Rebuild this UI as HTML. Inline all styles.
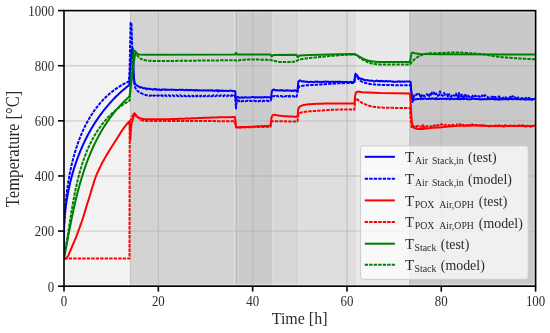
<!DOCTYPE html>
<html><head><meta charset="utf-8"><title>Temperature vs Time</title>
<style>html,body{margin:0;padding:0;background:#fff;}body{width:550px;height:333px;overflow:hidden;}svg{display:block;}</style>
</head><body>
<svg width="550" height="333" viewBox="0 0 550 333">
<defs><clipPath id="ax"><rect x="64.00" y="10.60" width="471.60" height="275.60"/></clipPath></defs>
<rect width="550" height="333" fill="#ffffff"/>
<rect x="64.00" y="10.60" width="65.90" height="275.60" fill="#f2f2f2"/>
<rect x="129.90" y="10.60" width="106.00" height="275.60" fill="#d3d3d3"/>
<rect x="235.90" y="10.60" width="35.40" height="275.60" fill="#cbcbcb"/>
<rect x="271.30" y="10.60" width="25.90" height="275.60" fill="#d7d7d7"/>
<rect x="297.20" y="10.60" width="58.20" height="275.60" fill="#dedede"/>
<rect x="355.40" y="10.60" width="53.80" height="275.60" fill="#e8e8e8"/>
<rect x="409.20" y="10.60" width="126.40" height="275.60" fill="#c9c9c9"/>
<rect x="127.80" y="10.60" width="1.40" height="275.60" fill="#ffffff" fill-opacity="0.25"/>
<rect x="233.70" y="10.60" width="1.60" height="275.60" fill="#ffffff" fill-opacity="0.22"/>
<rect x="237.10" y="10.60" width="1.10" height="275.60" fill="#ffffff" fill-opacity="0.12"/>
<rect x="272.10" y="10.60" width="1.30" height="275.60" fill="#ffffff" fill-opacity="0.18"/>
<rect x="298.10" y="10.60" width="1.30" height="275.60" fill="#ffffff" fill-opacity="0.18"/>
<rect x="356.70" y="10.60" width="1.20" height="275.60" fill="#ffffff" fill-opacity="0.2"/>
<rect x="407.70" y="10.60" width="1.10" height="275.60" fill="#ffffff" fill-opacity="0.3"/>
<line x1="130.30" y1="10.6" x2="130.30" y2="286.2" stroke="#000" stroke-opacity="0.07" stroke-width="1.2"/>
<line x1="236.20" y1="10.6" x2="236.20" y2="286.2" stroke="#000" stroke-opacity="0.11" stroke-width="1.2"/>
<line x1="271.45" y1="10.6" x2="271.45" y2="286.2" stroke="#000" stroke-opacity="0.09" stroke-width="1.2"/>
<line x1="297.35" y1="10.6" x2="297.35" y2="286.2" stroke="#000" stroke-opacity="0.07" stroke-width="1.2"/>
<line x1="355.60" y1="10.6" x2="355.60" y2="286.2" stroke="#000" stroke-opacity="0.06" stroke-width="1.2"/>
<line x1="409.70" y1="10.6" x2="409.70" y2="286.2" stroke="#000" stroke-opacity="0.08" stroke-width="1.2"/>
<rect x="65.00" y="12.00" width="469.60" height="1.2" fill="#fff" fill-opacity="0.3"/>
<rect x="65.00" y="283.90" width="469.60" height="1.2" fill="#fff" fill-opacity="0.3"/>
<rect x="65.00" y="12.00" width="1.2" height="271.90" fill="#fff" fill-opacity="0.3"/>
<rect x="533.30" y="12.00" width="1.2" height="271.90" fill="#fff" fill-opacity="0.3"/>
<line x1="64.00" y1="10.6" x2="64.00" y2="286.2" stroke="#b0b0b0" stroke-opacity="0.5" stroke-width="1.4"/>
<line x1="158.32" y1="10.6" x2="158.32" y2="286.2" stroke="#b0b0b0" stroke-opacity="0.5" stroke-width="1.4"/>
<line x1="252.64" y1="10.6" x2="252.64" y2="286.2" stroke="#b0b0b0" stroke-opacity="0.5" stroke-width="1.4"/>
<line x1="346.96" y1="10.6" x2="346.96" y2="286.2" stroke="#b0b0b0" stroke-opacity="0.5" stroke-width="1.4"/>
<line x1="441.28" y1="10.6" x2="441.28" y2="286.2" stroke="#b0b0b0" stroke-opacity="0.5" stroke-width="1.4"/>
<line x1="535.60" y1="10.6" x2="535.60" y2="286.2" stroke="#b0b0b0" stroke-opacity="0.5" stroke-width="1.4"/>
<line x1="64.0" y1="286.20" x2="535.6" y2="286.20" stroke="#b0b0b0" stroke-opacity="0.5" stroke-width="1.4"/>
<line x1="64.0" y1="231.08" x2="535.6" y2="231.08" stroke="#b0b0b0" stroke-opacity="0.5" stroke-width="1.4"/>
<line x1="64.0" y1="175.96" x2="535.6" y2="175.96" stroke="#b0b0b0" stroke-opacity="0.5" stroke-width="1.4"/>
<line x1="64.0" y1="120.84" x2="535.6" y2="120.84" stroke="#b0b0b0" stroke-opacity="0.5" stroke-width="1.4"/>
<line x1="64.0" y1="65.72" x2="535.6" y2="65.72" stroke="#b0b0b0" stroke-opacity="0.5" stroke-width="1.4"/>
<line x1="64.0" y1="10.60" x2="535.6" y2="10.60" stroke="#b0b0b0" stroke-opacity="0.5" stroke-width="1.4"/>
<g clip-path="url(#ax)" fill="none" stroke-width="2.00" stroke-linejoin="round">
<path d="M64.09,252.78 L64.06,252.13 L64.03,251.48 L64.00,250.83 L63.97,250.18 L63.94,249.53 L63.91,248.88 L63.89,248.23 L63.87,247.58 L63.85,246.93 L63.83,246.27 L63.81,245.62 L63.79,244.97 L63.78,244.31 L63.77,243.66 L63.76,243.00 L63.75,242.35 L63.74,241.69 L63.73,241.04 L63.73,240.38 L63.73,239.72 L63.72,239.06 L63.73,238.41 L63.73,237.75 L63.73,237.09 L63.74,236.43 L63.75,235.77 L63.76,235.11 L63.77,234.45 L63.78,233.79 L63.79,233.13 L63.81,232.47 L63.83,231.81 L63.85,231.15 L63.87,230.49 L63.89,229.83 L63.92,229.16 L63.94,228.50 L63.97,227.84 L64.00,227.18 L64.03,226.52 L64.07,225.85 L64.10,225.19 L64.14,224.53 L64.18,223.86 L64.22,223.20 L64.26,222.54 L64.31,221.87 L64.35,221.21 L64.40,220.54 L64.45,219.88 L64.50,219.22 L64.55,218.55 L64.61,217.89 L64.67,217.22 L64.72,216.56 L64.78,215.90 L64.85,215.23 L64.91,214.57 L64.98,213.90 L65.04,213.24 L65.11,212.57 L65.18,211.91 L65.26,211.25 L65.33,210.58 L65.41,209.92 L65.49,209.25 L65.57,208.59 L65.65,207.93 L65.73,207.26 L65.82,206.60 L65.90,205.93 L65.99,205.27 L66.08,204.61 L66.18,203.95 L66.27,203.28 L66.37,202.62 L66.47,201.96 L66.57,201.30 L66.67,200.63 L66.77,199.97 L66.88,199.31 L66.99,198.65 L67.10,197.99 L67.21,197.33 L67.32,196.67 L67.44,196.00 L67.55,195.34 L67.67,194.69 L67.79,194.03 L67.92,193.37 L68.04,192.71 L68.17,192.05 L68.30,191.39 L68.43,190.73 L68.56,190.08 L68.69,189.42 L68.83,188.76 L68.97,188.11 L69.11,187.45 L69.25,186.79 L69.39,186.14 L69.54,185.48 L69.68,184.83 L69.83,184.18 L69.98,183.52 L70.14,182.87 L70.29,182.22 L70.45,181.57 L70.61,180.92 L70.77,180.26 L70.93,179.61 L71.10,178.96 L71.27,178.32 L71.43,177.67 L71.60,177.02 L71.78,176.37 L71.95,175.72 L72.13,175.08 L72.31,174.43 L72.49,173.79 L72.67,173.14 L72.85,172.50 L73.04,171.86 L73.23,171.21 L73.42,170.57 L73.61,169.93 L73.81,169.29 L74.00,168.65 L74.20,168.01 L74.40,167.37 L74.60,166.74 L74.81,166.10 L75.02,165.46 L75.22,164.83 L75.43,164.19 L75.65,163.56 L75.86,162.93 L76.08,162.29 L76.30,161.66 L76.52,161.03 L76.74,160.40 L76.96,159.77 L77.19,159.14 L77.42,158.52 L77.65,157.89 L77.88,157.26 L78.12,156.64 L78.35,156.02 L78.59,155.39 L78.83,154.77 L79.08,154.15 L79.32,153.53 L79.57,152.91 L79.82,152.29 L80.07,151.68 L80.32,151.06 L80.58,150.44 L80.83,149.83 L81.09,149.22 L81.36,148.60 L81.62,147.99 L81.89,147.38 L82.15,146.77 L82.42,146.17 L82.69,145.56 L82.97,144.95 L83.25,144.35 L83.52,143.74 L83.80,143.14 L84.09,142.54 L84.37,141.94 L84.66,141.34 L84.95,140.74 L85.24,140.14 L85.53,139.55 L85.83,138.95 L86.12,138.36 L86.42,137.77 L86.72,137.18 L87.03,136.59 L87.33,136.00 L87.64,135.41 L87.95,134.83 L88.26,134.24 L88.58,133.66 L88.90,133.07 L89.21,132.49 L89.53,131.91 L89.86,131.34 L90.18,130.76 L90.51,130.18 L90.84,129.61 L91.17,129.03 L91.51,128.46 L91.84,127.89 L92.18,127.32 L92.52,126.76 L92.86,126.19 L93.21,125.62 L93.55,125.06 L93.90,124.50 L94.26,123.94 L94.61,123.38 L94.96,122.82 L95.32,122.27 L95.68,121.71 L96.05,121.16 L96.41,120.61 L96.78,120.06 L97.15,119.51 L97.52,118.96 L97.89,118.41 L98.27,117.87 L98.64,117.33 L99.02,116.79 L99.41,116.25 L99.79,115.71 L100.18,115.17 L100.57,114.64 L100.96,114.10 L101.35,113.57 L101.75,113.04 L102.15,112.52 L102.55,111.99 L102.95,111.46 L103.35,110.94 L103.76,110.42 L104.17,109.90 L104.58,109.38 L105.00,108.87 L105.41,108.35 L105.83,107.84 L106.25,107.33 L106.68,106.82 L107.10,106.31 L107.53,105.80 L107.96,105.30 L108.39,104.80 L108.83,104.30 L109.26,103.80 L109.70,103.30 L110.14,102.81 L110.59,102.31 L111.03,101.82 L111.48,101.33 L111.93,100.85 L112.39,100.36 L112.84,99.88 L113.30,99.39 L113.76,98.91 L114.22,98.44 L114.69,97.96 L115.15,97.49 L115.62,97.01 L116.09,96.54 L116.57,96.07 L117.05,95.61 L117.52,95.14 L118.00,94.68 L118.49,94.22 L118.97,93.76 L119.46,93.31 L119.95,92.85 L120.45,92.40 L120.94,91.95 L121.44,91.50 L121.94,91.06 L122.44,90.61 L122.95,90.17 L123.45,89.73 L123.96,89.29 L124.48,88.86 L124.99,88.43 L125.51,88.00 L126.03,87.57 L126.55,87.14 L127.07,86.72 L127.60,86.29 L128.13,85.87 L128.66,85.46 L129.19,85.04 L129.90,75.00 L130.80,60.00 L131.80,50.00 L132.60,49.00 L133.20,58.00 L133.70,72.00 L134.20,80.50 L134.20,80.50 L134.46,81.40 L134.72,82.26 L134.98,83.02 L135.24,83.65 L135.50,84.10 L135.75,84.41 L136.00,84.68 L136.25,84.91 L136.50,85.12 L136.75,85.30 L137.00,85.47 L137.25,85.63 L137.50,85.80 L137.75,85.97 L138.00,86.13 L138.25,86.29 L138.50,86.44 L138.75,86.59 L139.00,86.73 L139.25,86.86 L139.50,86.98 L139.75,87.10 L140.00,87.20 L140.00,87.43 L140.25,87.36 L140.50,87.29 L140.76,87.22 L141.01,87.21 L141.26,87.21 L141.51,87.22 L141.76,87.35 L142.01,87.57 L142.27,87.78 L142.52,87.94 L142.77,88.06 L143.02,88.17 L143.27,88.24 L143.53,88.22 L143.78,88.20 L144.03,88.18 L144.28,88.20 L144.53,88.23 L144.79,88.25 L145.04,88.21 L145.29,88.16 L145.54,88.11 L145.79,88.40 L146.04,88.78 L146.30,89.17 L146.55,89.25 L146.80,89.13 L147.07,88.99 L147.33,88.86 L147.60,88.74 L147.87,88.61 L148.13,88.59 L148.40,88.68 L148.67,88.77 L148.93,88.88 L149.20,89.01 L149.47,89.13 L149.73,89.12 L150.00,88.99 L150.25,88.87 L150.50,88.86 L150.75,89.02 L151.00,89.19 L151.25,89.31 L151.50,89.27 L151.75,89.23 L152.00,89.19 L152.25,89.35 L152.50,89.51 L152.75,89.67 L153.00,89.69 L153.25,89.68 L153.50,89.67 L153.75,89.48 L154.00,89.17 L154.25,88.86 L154.50,88.77 L154.75,89.02 L155.00,89.27 L155.25,89.44 L155.50,89.30 L155.75,89.17 L156.00,89.03 L156.25,89.28 L156.50,89.52 L156.75,89.77 L157.00,89.76 L157.25,89.68 L157.50,89.61 L157.75,89.60 L158.00,89.64 L158.25,89.68 L158.50,89.65 L158.75,89.52 L159.00,89.38 L159.25,89.32 L159.50,89.58 L159.75,89.84 L160.00,90.10 L160.25,90.12 L160.50,90.14 L160.75,90.17 L161.00,89.96 L161.25,89.70 L161.50,89.43 L161.75,89.40 L162.00,89.53 L162.25,89.67 L162.50,89.71 L162.75,89.62 L163.00,89.54 L163.25,89.48 L163.50,89.54 L163.75,89.61 L164.00,89.67 L164.25,89.57 L164.50,89.46 L164.75,89.36 L165.00,89.56 L165.25,89.85 L165.50,90.13 L165.75,90.09 L166.00,89.85 L166.25,89.61 L166.50,89.49 L166.75,89.55 L167.00,89.62 L167.25,89.69 L167.50,89.76 L167.75,89.84 L168.00,89.91 L168.25,89.82 L168.50,89.72 L168.75,89.63 L169.00,89.64 L169.25,89.68 L169.50,89.72 L169.75,89.73 L170.00,89.70 L170.25,89.68 L170.50,89.68 L170.75,89.73 L171.00,89.77 L171.25,89.79 L171.50,89.70 L171.75,89.61 L172.00,89.53 L172.25,89.60 L172.50,89.67 L172.75,89.73 L173.00,89.77 L173.25,89.79 L173.50,89.82 L173.75,89.83 L174.00,89.82 L174.25,89.81 L174.50,89.82 L174.75,89.86 L175.00,89.90 L175.25,89.93 L175.50,89.90 L175.75,89.88 L176.00,89.85 L176.25,89.95 L176.50,90.04 L176.75,90.14 L177.00,90.09 L177.25,90.00 L177.50,89.91 L177.75,89.88 L178.00,89.90 L178.25,89.92 L178.50,89.92 L178.75,89.88 L179.00,89.84 L179.25,89.81 L179.50,89.82 L179.75,89.84 L180.00,89.86 L180.25,89.80 L180.50,89.74 L180.75,89.68 L181.00,89.79 L181.25,89.95 L181.50,90.12 L181.75,90.10 L182.00,89.95 L182.25,89.81 L182.50,89.75 L182.75,89.78 L183.00,89.82 L183.25,89.88 L183.50,89.98 L183.75,90.08 L184.00,90.18 L184.25,90.19 L184.50,90.20 L184.75,90.21 L185.00,90.16 L185.25,90.09 L185.50,90.03 L185.75,89.92 L186.00,89.78 L186.25,89.64 L186.50,89.65 L186.75,89.87 L187.00,90.09 L187.25,90.26 L187.50,90.25 L187.75,90.24 L188.00,90.23 L188.25,90.09 L188.50,89.95 L188.75,89.81 L189.00,89.94 L189.25,90.13 L189.50,90.33 L189.75,90.33 L190.00,90.21 L190.25,90.09 L190.50,90.00 L190.75,89.97 L191.00,89.94 L191.25,89.93 L191.50,90.05 L191.75,90.16 L192.00,90.27 L192.25,90.25 L192.50,90.23 L192.75,90.21 L193.00,90.24 L193.25,90.28 L193.50,90.32 L193.75,90.24 L194.00,90.09 L194.25,89.93 L194.50,89.96 L194.75,90.27 L195.00,90.57 L195.25,90.77 L195.50,90.57 L195.75,90.36 L196.00,90.16 L196.25,90.08 L196.50,90.00 L196.75,89.93 L197.00,90.06 L197.25,90.26 L197.50,90.45 L197.75,90.48 L198.00,90.40 L198.25,90.32 L198.50,90.30 L198.75,90.36 L199.00,90.43 L199.25,90.47 L199.50,90.42 L199.75,90.36 L200.00,90.31 L200.25,90.34 L200.50,90.37 L200.75,90.40 L201.00,90.43 L201.25,90.46 L201.50,90.49 L201.75,90.46 L202.00,90.37 L202.25,90.29 L202.50,90.29 L202.75,90.42 L203.00,90.55 L203.25,90.64 L203.50,90.54 L203.75,90.45 L204.00,90.35 L204.25,90.32 L204.50,90.29 L204.75,90.26 L205.00,90.32 L205.25,90.41 L205.50,90.50 L205.75,90.56 L206.01,90.59 L206.26,90.63 L206.51,90.63 L206.76,90.57 L207.01,90.52 L207.26,90.46 L207.51,90.41 L207.76,90.36 L208.02,90.32 L208.27,90.46 L208.52,90.59 L208.77,90.73 L209.02,90.56 L209.27,90.36 L209.52,90.15 L209.77,90.14 L210.03,90.21 L210.28,90.28 L210.53,90.36 L210.78,90.46 L211.03,90.56 L211.28,90.58 L211.53,90.47 L211.78,90.35 L212.04,90.26 L212.29,90.39 L212.54,90.52 L212.79,90.64 L213.04,90.65 L213.29,90.64 L213.54,90.64 L213.79,90.71 L214.05,90.80 L214.30,90.88 L214.55,90.83 L214.80,90.67 L215.05,90.52 L215.30,90.44 L215.55,90.47 L215.80,90.50 L216.06,90.54 L216.31,90.63 L216.56,90.72 L216.81,90.79 L217.06,90.55 L217.31,90.31 L217.56,90.07 L217.81,90.46 L218.07,90.95 L218.32,91.44 L218.57,91.38 L218.82,91.05 L219.07,90.72 L219.32,90.56 L219.57,90.56 L219.82,90.56 L220.08,90.60 L220.33,90.75 L220.58,90.89 L220.83,91.01 L221.08,90.93 L221.33,90.86 L221.58,90.78 L221.83,90.64 L222.09,90.49 L222.34,90.34 L222.59,90.47 L222.84,90.68 L223.09,90.90 L223.34,91.01 L223.59,91.03 L223.84,91.05 L224.10,91.03 L224.35,90.92 L224.60,90.81 L224.85,90.72 L225.10,90.74 L225.35,90.76 L225.60,90.78 L225.85,90.85 L226.11,90.92 L226.36,90.99 L226.61,90.91 L226.86,90.79 L227.11,90.67 L227.36,90.71 L227.61,90.83 L227.86,90.95 L228.12,91.01 L228.37,90.99 L228.62,90.98 L228.87,90.94 L229.12,90.87 L229.37,90.80 L229.62,90.73 L229.87,90.67 L230.13,90.61 L230.38,90.55 L230.63,90.64 L230.88,90.75 L231.13,90.85 L231.38,90.84 L231.63,90.79 L231.88,90.74 L232.14,90.80 L232.39,90.97 L232.64,91.14 L232.89,91.22 L233.14,91.15 L233.39,91.08 L233.64,91.03 L233.89,91.09 L234.15,91.15 L234.40,91.21 L234.65,91.16 L234.90,91.11 L235.30,91.53 L235.90,100.07 L236.50,97.43 L237.47,97.03 L238.43,97.27 L239.40,97.67 L240.21,97.77 L241.03,97.56 L241.84,97.42 L242.65,97.36 L243.46,97.80 L244.28,97.58 L245.09,97.28 L245.90,97.27 L246.72,97.37 L247.53,97.66 L248.34,97.43 L249.15,97.40 L249.97,97.48 L250.78,97.37 L251.59,97.13 L252.41,97.01 L253.22,96.93 L254.03,97.20 L254.84,97.75 L255.66,97.34 L256.47,97.17 L257.28,97.43 L258.09,97.21 L258.91,97.27 L259.72,97.16 L260.53,97.46 L261.35,97.32 L262.16,97.30 L262.97,97.47 L263.78,97.29 L264.60,96.92 L265.41,97.09 L266.22,97.45 L267.04,97.34 L267.85,97.36 L268.66,97.07 L269.47,97.29 L270.29,97.48 L271.10,97.33 L271.80,91.90 L272.60,89.99 L273.40,89.70 L274.21,89.56 L275.01,90.14 L275.81,90.10 L276.62,90.29 L277.42,90.28 L278.22,90.53 L279.03,90.56 L279.83,90.21 L280.63,90.29 L281.44,90.55 L282.24,90.11 L283.04,90.62 L283.85,90.75 L284.65,90.72 L285.45,90.47 L286.25,90.56 L287.06,90.30 L287.86,90.53 L288.66,90.48 L289.47,90.64 L290.27,90.57 L291.07,90.76 L291.88,91.04 L292.68,90.52 L293.48,90.99 L294.29,90.42 L295.09,90.29 L295.89,90.82 L296.70,90.96 L297.50,91.11 L298.30,81.61 L299.90,80.33 L300.80,81.10 L301.70,81.19 L302.50,81.42 L303.30,81.19 L304.10,81.50 L304.90,81.60 L305.70,81.94 L306.51,81.53 L307.32,81.63 L308.13,82.03 L308.95,82.24 L309.76,81.92 L310.57,81.87 L311.38,81.82 L312.19,82.09 L313.00,82.07 L313.82,82.21 L314.63,81.83 L315.44,81.61 L316.25,81.65 L317.06,81.55 L317.88,81.74 L318.69,82.16 L319.50,81.87 L320.31,81.84 L321.12,82.19 L321.93,81.79 L322.75,81.76 L323.56,81.92 L324.37,81.77 L325.18,81.51 L325.99,81.61 L326.80,81.93 L327.62,81.55 L328.43,81.64 L329.24,82.06 L330.05,81.90 L330.86,81.87 L331.67,81.87 L332.49,81.74 L333.30,81.76 L334.11,82.12 L334.92,81.79 L335.73,81.83 L336.54,81.98 L337.35,81.81 L338.17,81.79 L338.98,81.62 L339.79,81.66 L340.60,81.89 L341.41,82.02 L342.22,81.77 L343.04,82.58 L343.85,81.99 L344.66,81.96 L345.47,81.91 L346.28,81.86 L347.09,82.27 L347.91,81.90 L348.72,82.30 L349.53,82.30 L350.34,81.74 L351.15,82.24 L351.96,81.83 L352.78,82.73 L353.59,81.90 L354.40,81.74 L355.00,76.00 L355.60,73.60 L356.40,75.50 L357.00,75.00 L357.80,76.80 L357.80,76.74 L358.07,77.05 L358.35,77.35 L358.62,77.54 L358.90,77.69 L359.17,77.83 L359.45,78.00 L359.73,78.16 L360.00,78.29 L360.25,78.49 L360.50,78.69 L360.75,78.89 L361.00,78.87 L361.25,78.81 L361.50,78.74 L361.75,78.78 L362.00,78.88 L362.25,78.98 L362.50,79.06 L362.75,79.13 L363.00,79.19 L363.25,79.28 L363.50,79.49 L363.75,79.70 L364.00,79.91 L364.25,79.95 L364.50,79.99 L364.75,80.03 L365.00,80.10 L365.25,80.18 L365.50,80.25 L365.75,80.24 L366.00,80.18 L366.25,80.11 L366.50,80.08 L366.75,80.12 L367.00,80.15 L367.25,80.20 L367.50,80.34 L367.75,80.46 L368.00,80.59 L368.25,80.52 L368.50,80.45 L368.75,80.37 L369.00,80.47 L369.25,80.60 L369.50,80.74 L369.75,80.80 L370.00,80.82 L370.25,80.83 L370.50,80.80 L370.75,80.70 L371.00,80.59 L371.25,80.52 L371.50,80.60 L371.75,80.67 L372.00,80.75 L372.25,80.76 L372.50,80.78 L372.75,80.79 L373.00,80.94 L373.25,81.12 L373.50,81.30 L373.75,81.43 L374.00,81.52 L374.25,81.61 L374.50,81.58 L374.75,81.36 L375.00,81.14 L375.25,80.97 L375.50,80.99 L375.75,81.01 L376.00,81.04 L376.25,80.85 L376.50,80.66 L376.75,80.47 L377.00,80.62 L377.25,80.85 L377.50,81.08 L377.75,81.17 L378.00,81.16 L378.25,81.15 L378.50,81.11 L378.75,81.03 L379.00,80.94 L379.25,80.91 L379.50,81.08 L379.75,81.25 L380.00,81.42 L380.25,81.22 L380.50,81.02 L380.75,80.82 L381.00,80.89 L381.25,81.01 L381.50,81.14 L381.75,81.21 L382.00,81.25 L382.25,81.28 L382.50,81.26 L382.75,81.14 L383.00,81.03 L383.25,80.98 L383.50,81.17 L383.75,81.36 L384.00,81.55 L384.25,81.57 L384.50,81.59 L384.75,81.61 L385.00,81.45 L385.25,81.24 L385.50,81.03 L385.75,80.95 L386.00,80.96 L386.25,80.96 L386.50,81.03 L386.75,81.21 L387.00,81.39 L387.25,81.52 L387.50,81.47 L387.75,81.42 L388.00,81.37 L388.25,81.27 L388.50,81.17 L388.75,81.07 L389.00,81.12 L389.25,81.20 L389.50,81.28 L389.75,81.33 L390.00,81.34 L390.25,81.36 L390.50,81.37 L390.75,81.37 L391.00,81.37 L391.26,81.39 L391.51,81.48 L391.76,81.56 L392.01,81.65 L392.26,81.61 L392.51,81.57 L392.76,81.54 L393.01,81.64 L393.27,81.76 L393.52,81.88 L393.77,81.90 L394.02,81.87 L394.27,81.84 L394.52,81.79 L394.77,81.73 L395.02,81.67 L395.28,81.64 L395.53,81.68 L395.78,81.71 L396.03,81.75 L396.28,81.77 L396.53,81.80 L396.78,81.82 L397.03,81.77 L397.29,81.72 L397.54,81.67 L397.79,81.53 L398.04,81.36 L398.29,81.19 L398.54,81.22 L398.79,81.41 L399.04,81.59 L399.30,81.68 L399.55,81.61 L399.80,81.54 L400.05,81.52 L400.30,81.65 L400.55,81.79 L400.80,81.93 L401.05,81.79 L401.30,81.66 L401.56,81.53 L401.81,81.54 L402.06,81.58 L402.31,81.61 L402.56,81.62 L402.81,81.60 L403.06,81.59 L403.31,81.63 L403.57,81.75 L403.82,81.87 L404.07,81.92 L404.32,81.79 L404.57,81.66 L404.82,81.54 L405.07,81.50 L405.32,81.46 L405.58,81.42 L405.83,81.46 L406.08,81.52 L406.33,81.57 L406.58,81.53 L406.83,81.47 L407.08,81.40 L407.33,81.40 L407.59,81.46 L407.84,81.51 L408.09,81.54 L408.34,81.52 L408.59,81.51 L408.84,81.50 L409.09,81.53 L409.34,81.55 L409.60,81.58 L409.85,81.72 L410.10,81.86 L410.35,82.01 L410.60,81.88 L411.20,89.91 L412.00,98.61 L412.95,99.44 L413.90,99.82 L414.77,99.38 L415.64,99.28 L416.51,99.21 L417.39,98.91 L418.26,98.90 L419.13,98.81 L420.00,98.63 L420.80,99.19 L421.60,98.65 L422.40,98.66 L423.20,99.00 L424.00,98.61 L424.80,98.48 L425.60,98.56 L426.40,98.94 L427.20,98.91 L428.00,98.89 L428.80,98.67 L429.60,98.55 L430.40,99.06 L431.20,98.40 L432.00,98.74 L432.80,98.43 L433.60,98.69 L434.40,98.76 L435.20,99.15 L436.00,98.00 L436.80,99.19 L437.60,98.56 L438.40,98.89 L439.20,99.03 L440.00,98.59 L440.81,98.79 L441.62,98.95 L442.43,98.78 L443.24,98.64 L444.05,98.89 L444.86,98.83 L445.68,98.50 L446.49,99.20 L447.30,98.83 L448.11,98.24 L448.92,98.74 L449.73,99.35 L450.54,99.26 L451.35,98.86 L452.16,98.50 L452.97,98.91 L453.78,99.16 L454.59,98.97 L455.41,98.79 L456.22,98.83 L457.03,99.07 L457.84,98.91 L458.65,99.04 L459.46,99.18 L460.27,99.27 L461.08,99.01 L461.89,98.82 L462.70,98.77 L463.51,99.26 L464.32,99.12 L465.14,98.71 L465.95,98.56 L466.76,98.91 L467.57,99.28 L468.38,99.39 L469.19,99.20 L470.00,99.24 L470.81,99.32 L471.62,99.03 L472.43,98.75 L473.24,98.74 L474.05,98.85 L474.86,98.95 L475.68,99.02 L476.49,98.89 L477.30,98.97 L478.11,98.92 L478.92,99.37 L479.73,99.18 L480.54,99.51 L481.35,99.62 L482.16,98.99 L482.97,99.19 L483.78,99.30 L484.59,98.83 L485.41,99.14 L486.22,99.14 L487.03,99.19 L487.84,98.96 L488.65,99.07 L489.46,99.23 L490.27,99.12 L491.08,99.00 L491.89,99.09 L492.70,98.91 L493.51,99.22 L494.32,98.53 L495.14,99.51 L495.95,99.23 L496.76,99.31 L497.57,99.43 L498.38,98.86 L499.19,99.83 L500.00,98.89 L500.81,99.34 L501.62,99.31 L502.43,99.57 L503.24,99.20 L504.05,98.85 L504.85,99.26 L505.66,98.58 L506.47,99.16 L507.28,99.16 L508.09,99.61 L508.90,99.15 L509.71,99.09 L510.52,99.02 L511.33,99.01 L512.14,99.14 L512.95,99.31 L513.75,98.93 L514.56,99.11 L515.37,98.91 L516.18,99.22 L516.99,99.20 L517.80,98.95 L518.61,99.14 L519.42,99.34 L520.23,99.49 L521.04,99.44 L521.85,99.15 L522.65,98.93 L523.46,99.03 L524.27,99.55 L525.08,99.56 L525.89,99.50 L526.70,99.50 L527.51,99.16 L528.32,99.39 L529.13,99.43 L529.94,99.19 L530.75,99.43 L531.55,99.37 L532.36,99.54 L533.17,99.44 L533.98,99.11 L534.79,98.95 L535.60,98.86" stroke="#0000ff"/>
<path d="M63.77,251.00 L63.76,250.40 L63.76,249.81 L63.76,249.21 L63.76,248.61 L63.76,248.01 L63.76,247.41 L63.76,246.80 L63.76,246.19 L63.76,245.59 L63.76,244.98 L63.77,244.36 L63.77,243.75 L63.77,243.14 L63.78,242.52 L63.78,241.90 L63.79,241.28 L63.79,240.66 L63.80,240.04 L63.81,239.42 L63.82,238.79 L63.83,238.16 L63.84,237.53 L63.85,236.91 L63.86,236.27 L63.87,235.64 L63.88,235.01 L63.90,234.37 L63.91,233.74 L63.93,233.10 L63.94,232.46 L63.96,231.82 L63.98,231.18 L64.00,230.54 L64.02,229.89 L64.04,229.25 L64.06,228.60 L64.08,227.95 L64.10,227.31 L64.13,226.66 L64.15,226.01 L64.18,225.35 L64.20,224.70 L64.23,224.05 L64.26,223.39 L64.29,222.74 L64.32,222.08 L64.35,221.42 L64.38,220.77 L64.42,220.11 L64.45,219.45 L64.49,218.79 L64.52,218.12 L64.56,217.46 L64.60,216.80 L64.64,216.13 L64.68,215.47 L64.72,214.80 L64.77,214.14 L64.81,213.47 L64.85,212.80 L64.90,212.13 L64.95,211.47 L65.00,210.80 L65.05,210.13 L65.10,209.45 L65.15,208.78 L65.20,208.11 L65.26,207.44 L65.31,206.77 L65.37,206.09 L65.43,205.42 L65.49,204.74 L65.55,204.07 L65.61,203.39 L65.68,202.72 L65.74,202.04 L65.81,201.37 L65.87,200.69 L65.94,200.01 L66.01,199.33 L66.09,198.66 L66.16,197.98 L66.23,197.30 L66.31,196.62 L66.39,195.94 L66.46,195.27 L66.54,194.59 L66.63,193.91 L66.71,193.23 L66.79,192.55 L66.88,191.87 L66.96,191.19 L67.05,190.51 L67.14,189.83 L67.24,189.15 L67.33,188.47 L67.42,187.79 L67.52,187.12 L67.62,186.44 L67.72,185.76 L67.82,185.08 L67.92,184.40 L68.02,183.72 L68.13,183.04 L68.24,182.36 L68.35,181.69 L68.46,181.01 L68.57,180.33 L68.68,179.65 L68.80,178.98 L68.92,178.30 L69.04,177.62 L69.16,176.95 L69.28,176.27 L69.40,175.60 L69.53,174.92 L69.66,174.25 L69.79,173.57 L69.92,172.90 L70.05,172.23 L70.19,171.55 L70.32,170.88 L70.46,170.21 L70.60,169.54 L70.74,168.87 L70.89,168.20 L71.03,167.53 L71.18,166.86 L71.33,166.19 L71.48,165.53 L71.63,164.86 L71.79,164.20 L71.95,163.53 L72.11,162.87 L72.27,162.20 L72.43,161.54 L72.60,160.88 L72.76,160.22 L72.93,159.56 L73.10,158.90 L73.28,158.24 L73.45,157.58 L73.63,156.93 L73.81,156.27 L73.99,155.62 L74.17,154.96 L74.36,154.31 L74.54,153.66 L74.73,153.01 L74.92,152.36 L75.12,151.71 L75.31,151.06 L75.51,150.42 L75.71,149.77 L75.91,149.13 L76.12,148.49 L76.33,147.84 L76.53,147.20 L76.75,146.57 L76.96,145.93 L77.17,145.29 L77.39,144.66 L77.61,144.02 L77.83,143.39 L78.06,142.76 L78.29,142.13 L78.51,141.50 L78.75,140.87 L78.98,140.25 L79.22,139.62 L79.45,139.00 L79.70,138.38 L79.94,137.76 L80.18,137.14 L80.43,136.53 L80.68,135.91 L80.93,135.30 L81.19,134.69 L81.45,134.08 L81.71,133.47 L81.97,132.86 L82.23,132.26 L82.50,131.65 L82.77,131.05 L83.04,130.45 L83.32,129.86 L83.60,129.26 L83.88,128.66 L84.16,128.07 L84.44,127.48 L84.73,126.89 L85.02,126.31 L85.31,125.72 L85.61,125.14 L85.91,124.56 L86.21,123.98 L86.51,123.40 L86.82,122.82 L87.12,122.25 L87.43,121.68 L87.75,121.11 L88.06,120.54 L88.38,119.98 L88.70,119.42 L89.03,118.86 L89.36,118.30 L89.69,117.74 L90.02,117.19 L90.35,116.63 L90.69,116.08 L91.03,115.54 L91.38,114.99 L91.72,114.45 L92.07,113.91 L92.43,113.37 L92.78,112.83 L93.14,112.30 L93.50,111.77 L93.86,111.24 L94.23,110.71 L94.60,110.19 L94.98,109.67 L95.35,109.15 L95.73,108.63 L96.12,108.12 L96.50,107.61 L96.89,107.10 L97.29,106.59 L97.68,106.09 L98.08,105.59 L98.49,105.09 L98.89,104.60 L99.30,104.10 L99.72,103.61 L100.13,103.13 L100.56,102.64 L100.98,102.16 L101.41,101.68 L101.84,101.20 L102.28,100.73 L102.72,100.26 L103.16,99.79 L103.61,99.33 L104.06,98.86 L104.51,98.40 L104.97,97.95 L105.44,97.49 L105.90,97.04 L106.37,96.60 L106.85,96.15 L107.33,95.71 L107.81,95.27 L108.30,94.84 L108.79,94.41 L109.29,93.98 L109.79,93.55 L110.29,93.13 L110.80,92.71 L111.32,92.29 L111.83,91.88 L112.36,91.47 L112.88,91.06 L113.41,90.66 L113.95,90.26 L114.49,89.86 L115.04,89.47 L115.59,89.08 L116.14,88.69 L116.70,88.31 L117.26,87.93 L117.83,87.55 L118.41,87.18 L118.99,86.81 L119.57,86.44 L120.16,86.08 L120.75,85.72 L121.35,85.36 L121.95,85.01 L122.56,84.66 L123.17,84.32 L123.79,83.98 L124.42,83.64 L125.04,83.31 L125.68,82.97 L126.32,82.65 L126.96,82.33 L127.61,82.01 L128.27,81.69 L128.93,81.38 L129.60,70.00 L130.10,45.00 L130.60,23.00 L131.40,22.40 L132.00,40.00 L132.60,60.00 L133.20,75.00 L133.80,81.00 L134.40,84.00 L134.40,84.00 L134.68,85.25 L134.95,86.40 L135.22,87.37 L135.50,88.10 L135.76,88.61 L136.01,89.05 L136.27,89.43 L136.53,89.77 L136.79,90.07 L137.04,90.35 L137.30,90.60 L137.57,90.85 L137.84,91.08 L138.11,91.29 L138.38,91.49 L138.65,91.68 L138.92,91.86 L139.19,92.03 L139.46,92.19 L139.73,92.35 L140.00,92.50 L140.25,92.64 L140.50,92.78 L140.75,92.92 L141.00,93.06 L141.25,93.19 L141.50,93.33 L141.75,93.46 L142.00,93.58 L142.25,93.71 L142.50,93.83 L142.75,93.95 L143.00,94.06 L143.25,94.17 L143.50,94.28 L143.75,94.38 L144.00,94.47 L144.25,94.56 L144.50,94.65 L144.75,94.73 L145.00,94.80 L145.25,94.87 L145.50,94.94 L145.75,95.01 L146.00,95.07 L146.25,95.14 L146.50,95.20 L146.75,95.26 L147.00,95.32 L147.25,95.38 L147.50,95.43 L147.75,95.48 L148.00,95.53 L148.25,95.58 L148.50,95.62 L148.75,95.66 L149.00,95.70 L149.25,95.73 L149.50,95.76 L149.75,95.78 L150.00,95.80 L150.00,95.50 L151.20,95.48 L152.40,96.40 L153.60,95.58 L154.80,95.40 L156.00,96.38 L157.20,95.68 L158.40,95.33 L159.60,96.35 L160.80,95.78 L162.00,95.28 L163.20,96.30 L164.40,95.87 L165.60,95.24 L166.80,96.24 L168.00,95.97 L169.20,95.21 L170.40,96.16 L171.60,96.06 L172.80,95.20 L174.00,96.08 L175.20,96.14 L176.40,95.21 L177.60,95.99 L178.80,96.22 L180.00,95.23 L181.20,95.90 L182.40,96.28 L183.60,95.26 L184.80,95.80 L186.00,96.33 L187.20,95.32 L188.40,95.70 L189.60,96.37 L190.80,95.38 L192.00,95.61 L193.20,96.39 L194.40,95.45 L195.60,95.52 L196.80,96.40 L198.00,95.54 L199.20,95.44 L200.40,96.39 L201.60,95.63 L202.80,95.36 L204.00,96.36 L205.20,95.73 L206.40,95.30 L207.60,96.32 L208.80,95.82 L210.00,95.25 L211.20,96.27 L212.40,95.92 L213.60,95.22 L214.80,96.20 L216.00,96.01 L217.20,95.20 L218.40,96.12 L219.60,96.10 L220.80,95.20 L222.00,96.04 L223.20,96.18 L224.40,95.21 L225.60,95.95 L226.80,96.25 L228.00,95.24 L229.20,95.85 L230.40,96.31 L231.60,95.29 L232.80,95.75 L234.00,96.36 L234.70,95.40 L235.30,98.00 L236.00,108.50 L236.70,100.50 L238.40,100.20 L239.40,101.22 L240.60,100.65 L241.80,101.24 L243.00,101.04 L244.20,100.71 L245.40,101.34 L246.60,100.85 L247.80,100.86 L249.00,101.34 L250.20,100.71 L251.40,101.05 L252.60,101.23 L253.80,100.65 L255.00,101.22 L256.20,101.06 L257.40,100.70 L258.60,101.33 L259.80,100.87 L261.00,100.84 L262.20,101.34 L263.40,100.72 L264.60,101.03 L265.80,101.25 L267.00,100.65 L268.20,101.21 L269.40,101.08 L270.60,100.69 L272.00,97.00 L272.80,96.20 L273.80,96.17 L275.00,95.94 L276.20,96.66 L277.40,95.71 L278.60,96.53 L279.80,96.15 L281.00,95.95 L282.20,96.65 L283.40,95.71 L284.60,96.54 L285.80,96.13 L287.00,95.97 L288.20,96.65 L289.40,95.71 L290.60,96.56 L291.80,96.12 L293.00,95.98 L294.20,96.64 L295.40,95.70 L296.60,96.57 L298.40,88.00 L299.70,86.20 L299.70,86.20 L299.95,86.16 L300.20,86.12 L300.46,86.09 L300.71,86.05 L300.96,86.01 L301.21,85.97 L301.47,85.94 L301.72,85.90 L301.97,85.87 L302.22,85.83 L302.48,85.80 L302.73,85.76 L302.98,85.73 L303.23,85.70 L303.49,85.66 L303.74,85.63 L303.99,85.61 L304.24,85.58 L304.50,85.55 L304.75,85.52 L305.00,85.50 L305.25,85.48 L305.50,85.45 L305.75,85.43 L306.00,85.41 L306.25,85.39 L306.50,85.37 L306.75,85.35 L307.00,85.33 L307.25,85.31 L307.50,85.29 L307.75,85.27 L308.00,85.25 L308.25,85.23 L308.50,85.21 L308.75,85.19 L309.00,85.17 L309.25,85.16 L309.50,85.14 L309.75,85.12 L310.00,85.10 L310.25,85.09 L310.50,85.07 L310.75,85.05 L311.00,85.04 L311.25,85.02 L311.50,85.01 L311.75,84.99 L312.00,84.97 L312.25,84.96 L312.50,84.94 L312.75,84.93 L313.00,84.91 L313.25,84.90 L313.50,84.88 L313.75,84.87 L314.00,84.85 L314.25,84.84 L314.50,84.82 L314.75,84.81 L315.00,84.80 L315.25,84.78 L315.50,84.77 L315.75,84.75 L316.00,84.74 L316.25,84.72 L316.50,84.71 L316.75,84.70 L317.00,84.68 L317.25,84.67 L317.50,84.65 L317.75,84.64 L318.00,84.62 L318.25,84.61 L318.50,84.59 L318.75,84.58 L319.00,84.56 L319.25,84.55 L319.50,84.53 L319.75,84.52 L320.00,84.50 L320.25,84.48 L320.50,84.47 L320.75,84.45 L321.00,84.44 L321.25,84.42 L321.50,84.40 L321.75,84.39 L322.00,84.37 L322.25,84.35 L322.50,84.34 L322.75,84.32 L323.00,84.30 L323.25,84.28 L323.50,84.27 L323.75,84.25 L324.00,84.23 L324.25,84.22 L324.50,84.20 L324.75,84.18 L325.00,84.16 L325.25,84.15 L325.50,84.13 L325.75,84.11 L326.00,84.09 L326.25,84.08 L326.50,84.06 L326.75,84.04 L327.00,84.02 L327.25,84.01 L327.50,83.99 L327.75,83.97 L328.00,83.95 L328.25,83.94 L328.50,83.92 L328.75,83.90 L329.00,83.88 L329.25,83.87 L329.50,83.85 L329.75,83.83 L330.00,83.82 L330.25,83.80 L330.50,83.78 L330.75,83.77 L331.00,83.75 L331.25,83.74 L331.50,83.72 L331.75,83.70 L332.00,83.69 L332.25,83.67 L332.50,83.66 L332.75,83.64 L333.00,83.63 L333.25,83.61 L333.50,83.60 L333.75,83.58 L334.00,83.57 L334.25,83.55 L334.50,83.54 L334.75,83.53 L335.00,83.51 L335.25,83.50 L335.50,83.49 L335.75,83.47 L336.00,83.46 L336.25,83.45 L336.50,83.44 L336.75,83.43 L337.00,83.41 L337.25,83.40 L337.50,83.39 L337.75,83.38 L338.00,83.37 L338.25,83.36 L338.50,83.35 L338.75,83.34 L339.00,83.33 L339.25,83.32 L339.50,83.32 L339.75,83.31 L340.00,83.30 L340.25,83.29 L340.51,83.28 L340.76,83.28 L341.01,83.27 L341.26,83.26 L341.52,83.25 L341.77,83.25 L342.02,83.24 L342.27,83.23 L342.53,83.23 L342.78,83.22 L343.03,83.21 L343.28,83.20 L343.54,83.20 L343.79,83.19 L344.04,83.18 L344.29,83.18 L344.55,83.17 L344.80,83.16 L345.05,83.16 L345.31,83.15 L345.56,83.14 L345.81,83.14 L346.06,83.13 L346.32,83.12 L346.57,83.12 L346.82,83.11 L347.07,83.11 L347.33,83.10 L347.58,83.10 L347.83,83.09 L348.08,83.08 L348.34,83.08 L348.59,83.07 L348.84,83.07 L349.09,83.06 L349.35,83.06 L349.60,83.06 L349.85,83.05 L350.11,83.05 L350.36,83.04 L350.61,83.04 L350.86,83.03 L351.12,83.03 L351.37,83.03 L351.62,83.02 L351.87,83.02 L352.13,83.02 L352.38,83.02 L352.63,83.01 L352.88,83.01 L353.14,83.01 L353.39,83.01 L353.64,83.00 L353.89,83.00 L354.15,83.00 L354.40,83.00 L355.00,77.50 L355.80,75.50 L357.40,77.50 L357.40,77.50 L357.66,77.86 L357.92,78.22 L358.18,78.57 L358.44,78.90 L358.70,79.23 L358.96,79.53 L359.22,79.82 L359.48,80.07 L359.74,80.30 L360.00,80.50 L360.25,80.67 L360.50,80.83 L360.75,80.98 L361.00,81.13 L361.25,81.27 L361.50,81.40 L361.75,81.53 L362.00,81.65 L362.25,81.77 L362.50,81.88 L362.75,81.99 L363.00,82.09 L363.25,82.19 L363.50,82.29 L363.75,82.38 L364.00,82.47 L364.25,82.56 L364.50,82.64 L364.75,82.72 L365.00,82.80 L365.25,82.88 L365.50,82.96 L365.75,83.03 L366.00,83.11 L366.25,83.18 L366.50,83.25 L366.75,83.32 L367.00,83.39 L367.25,83.45 L367.50,83.52 L367.75,83.58 L368.00,83.64 L368.25,83.69 L368.50,83.75 L368.75,83.80 L369.00,83.84 L369.25,83.89 L369.50,83.93 L369.75,83.97 L370.00,84.00 L370.25,84.03 L370.50,84.06 L370.75,84.09 L371.00,84.12 L371.25,84.15 L371.50,84.18 L371.75,84.21 L372.00,84.23 L372.25,84.26 L372.50,84.28 L372.75,84.31 L373.00,84.33 L373.25,84.36 L373.50,84.38 L373.75,84.40 L374.00,84.42 L374.25,84.44 L374.50,84.46 L374.75,84.48 L375.00,84.50 L375.25,84.52 L375.50,84.54 L375.75,84.56 L376.00,84.58 L376.25,84.59 L376.50,84.61 L376.75,84.63 L377.00,84.64 L377.25,84.66 L377.50,84.67 L377.75,84.69 L378.00,84.70 L378.25,84.72 L378.50,84.73 L378.75,84.74 L379.00,84.75 L379.25,84.77 L379.50,84.78 L379.75,84.79 L380.00,84.80 L380.25,84.81 L380.50,84.82 L380.75,84.83 L381.00,84.84 L381.25,84.85 L381.50,84.86 L381.75,84.87 L382.00,84.88 L382.25,84.89 L382.50,84.90 L382.75,84.91 L383.00,84.92 L383.25,84.93 L383.50,84.94 L383.75,84.95 L384.00,84.96 L384.25,84.97 L384.50,84.98 L384.75,84.99 L385.00,84.99 L385.25,85.00 L385.50,85.01 L385.75,85.02 L386.00,85.02 L386.25,85.03 L386.50,85.04 L386.75,85.04 L387.00,85.05 L387.25,85.06 L387.50,85.06 L387.75,85.07 L388.00,85.07 L388.25,85.08 L388.50,85.08 L388.75,85.08 L389.00,85.09 L389.25,85.09 L389.50,85.09 L389.75,85.10 L390.00,85.10 L390.25,85.10 L390.50,85.10 L390.75,85.11 L391.00,85.11 L391.26,85.11 L391.51,85.11 L391.76,85.12 L392.01,85.12 L392.26,85.12 L392.51,85.12 L392.76,85.12 L393.01,85.13 L393.27,85.13 L393.52,85.13 L393.77,85.13 L394.02,85.13 L394.27,85.14 L394.52,85.14 L394.77,85.14 L395.02,85.14 L395.28,85.14 L395.53,85.14 L395.78,85.15 L396.03,85.15 L396.28,85.15 L396.53,85.15 L396.78,85.15 L397.03,85.15 L397.29,85.16 L397.54,85.16 L397.79,85.16 L398.04,85.16 L398.29,85.16 L398.54,85.16 L398.79,85.17 L399.04,85.17 L399.30,85.17 L399.55,85.17 L399.80,85.17 L400.05,85.17 L400.30,85.17 L400.55,85.17 L400.80,85.18 L401.05,85.18 L401.30,85.18 L401.56,85.18 L401.81,85.18 L402.06,85.18 L402.31,85.18 L402.56,85.18 L402.81,85.18 L403.06,85.19 L403.31,85.19 L403.57,85.19 L403.82,85.19 L404.07,85.19 L404.32,85.19 L404.57,85.19 L404.82,85.19 L405.07,85.19 L405.32,85.19 L405.58,85.19 L405.83,85.19 L406.08,85.19 L406.33,85.20 L406.58,85.20 L406.83,85.20 L407.08,85.20 L407.33,85.20 L407.59,85.20 L407.84,85.20 L408.09,85.20 L408.34,85.20 L408.59,85.20 L408.84,85.20 L409.09,85.20 L409.34,85.20 L409.60,85.20 L409.85,85.20 L410.10,85.20 L410.35,85.20 L410.60,85.20 L411.30,93.00 L412.40,102.00 L413.50,99.00 L414.00,95.50 L415.00,95.98 L416.00,95.06 L417.00,94.08 L418.00,94.77 L419.00,93.91 L420.00,95.60 L421.00,97.64 L422.00,94.71 L423.00,94.51 L424.00,96.28 L425.00,96.07 L426.00,95.67 L427.00,94.01 L428.00,95.45 L429.00,96.61 L430.00,93.35 L431.00,94.77 L432.00,92.46 L433.00,93.44 L434.00,92.55 L435.00,95.12 L436.00,93.47 L437.00,95.93 L438.00,95.75 L439.00,95.20 L440.00,91.47 L441.00,94.64 L442.00,95.42 L443.00,95.68 L444.00,93.05 L445.00,94.74 L446.00,93.93 L447.00,94.21 L448.00,97.20 L449.00,94.21 L450.00,95.45 L451.00,96.92 L452.00,94.57 L453.00,95.32 L454.00,95.68 L455.00,95.60 L456.00,93.54 L457.00,95.62 L458.00,97.67 L459.00,93.02 L460.00,96.88 L461.00,95.74 L462.00,94.57 L463.00,98.84 L464.00,96.90 L465.00,93.81 L466.00,95.90 L467.00,96.75 L468.00,95.57 L469.00,97.01 L470.00,95.91 L471.00,96.54 L472.00,97.20 L473.00,95.56 L474.00,96.31 L475.00,95.82 L476.00,96.34 L477.00,95.33 L478.00,95.87 L479.00,96.22 L480.00,97.14 L481.00,97.38 L482.00,95.45 L483.00,95.92 L484.00,97.12 L485.00,95.06 L486.00,96.33 L487.00,96.67 L488.00,97.80 L489.00,97.39 L490.00,96.62 L491.00,96.63 L492.00,96.77 L493.00,98.24 L494.00,96.72 L495.00,96.87 L496.00,97.44 L497.00,97.11 L498.00,97.09 L499.00,96.40 L500.00,97.33 L501.00,97.03 L502.00,98.37 L503.00,98.00 L504.00,97.51 L505.00,98.11 L506.00,97.35 L507.00,98.51 L508.00,97.71 L509.00,98.22 L510.00,96.77 L511.00,98.13 L512.00,96.54 L513.00,96.31 L514.00,97.74 L515.00,97.31 L516.00,98.21 L517.00,99.92 L518.00,97.51 L519.00,97.72 L520.00,98.43 L521.00,98.70 L522.00,98.21 L523.00,98.24 L524.00,99.01 L525.00,98.91 L526.00,97.71 L527.00,98.52 L528.00,98.66 L529.00,97.83 L530.00,98.93 L531.00,98.08 L532.00,99.59 L533.00,99.02 L534.00,98.98 L535.00,98.48" stroke="#0000ff" stroke-dasharray="3.4 1.1"/>
<path d="M64.30,259.40 L64.60,259.31 L64.90,259.17 L65.20,258.99 L65.50,258.80 L65.75,258.60 L66.00,258.35 L66.25,258.08 L66.50,257.80 L66.75,257.52 L67.00,257.24 L67.25,256.93 L67.50,256.60 L67.75,256.25 L68.00,255.87 L68.25,255.46 L68.50,255.00 L68.75,254.47 L69.00,253.86 L69.25,253.22 L69.50,252.60 L69.78,251.95 L70.05,251.30 L70.32,250.65 L70.60,250.00 L70.86,249.40 L71.11,248.79 L71.37,248.19 L71.62,247.59 L71.88,246.99 L72.13,246.39 L72.39,245.79 L72.64,245.19 L72.90,244.60 L73.17,243.99 L73.43,243.38 L73.70,242.78 L73.97,242.19 L74.23,241.59 L74.50,240.98 L74.77,240.37 L75.03,239.74 L75.30,239.10 L75.60,238.35 L75.90,237.58 L76.20,236.79 L76.50,236.00 L76.76,235.33 L77.01,234.65 L77.27,233.97 L77.53,233.29 L77.78,232.61 L78.04,231.93 L78.29,231.24 L78.55,230.55 L78.81,229.86 L79.06,229.17 L79.32,228.47 L79.57,227.76 L79.83,227.06 L80.09,226.34 L80.34,225.62 L80.60,224.90 L80.85,224.18 L81.11,223.45 L81.36,222.72 L81.62,221.99 L81.87,221.25 L82.12,220.51 L82.38,219.76 L82.63,219.00 L82.88,218.24 L83.14,217.47 L83.39,216.69 L83.65,215.90 L83.90,215.10 L84.17,214.24 L84.43,213.37 L84.70,212.47 L84.97,211.56 L85.23,210.64 L85.50,209.71 L85.77,208.79 L86.03,207.87 L86.30,206.95 L86.57,206.05 L86.83,205.16 L87.10,204.30 L87.38,203.42 L87.66,202.57 L87.94,201.72 L88.22,200.87 L88.50,200.00 L88.76,199.18 L89.01,198.36 L89.27,197.53 L89.53,196.69 L89.78,195.84 L90.04,194.99 L90.29,194.13 L90.55,193.28 L90.81,192.42 L91.06,191.56 L91.32,190.71 L91.57,189.86 L91.83,189.01 L92.09,188.16 L92.34,187.33 L92.60,186.50 L92.87,185.62 L93.14,184.74 L93.41,183.85 L93.68,182.95 L93.95,182.07 L94.22,181.20 L94.49,180.36 L94.76,179.53 L95.03,178.75 L95.30,178.00 L95.55,177.34 L95.80,176.69 L96.05,176.07 L96.30,175.45 L96.55,174.85 L96.80,174.27 L97.05,173.69 L97.30,173.13 L97.55,172.57 L97.80,172.02 L98.05,171.48 L98.30,170.94 L98.55,170.40 L98.80,169.87 L99.05,169.33 L99.30,168.80 L99.56,168.25 L99.81,167.71 L100.07,167.17 L100.33,166.64 L100.59,166.12 L100.84,165.59 L101.10,165.08 L101.36,164.57 L101.61,164.06 L101.87,163.56 L102.13,163.06 L102.39,162.57 L102.64,162.08 L102.90,161.60 L103.17,161.11 L103.43,160.62 L103.70,160.14 L103.97,159.67 L104.23,159.20 L104.50,158.74 L104.77,158.28 L105.03,157.82 L105.30,157.36 L105.57,156.91 L105.83,156.45 L106.10,156.00 L106.35,155.57 L106.61,155.14 L106.86,154.71 L107.12,154.28 L107.37,153.85 L107.62,153.43 L107.88,153.00 L108.13,152.58 L108.38,152.16 L108.64,151.74 L108.89,151.33 L109.15,150.91 L109.40,150.50 L109.66,150.08 L109.91,149.67 L110.17,149.26 L110.43,148.84 L110.69,148.43 L110.94,148.03 L111.20,147.62 L111.46,147.21 L111.71,146.81 L111.97,146.40 L112.23,146.00 L112.49,145.60 L112.74,145.20 L113.00,144.80 L113.26,144.40 L113.51,144.00 L113.77,143.60 L114.03,143.20 L114.29,142.80 L114.54,142.40 L114.80,142.00 L115.06,141.60 L115.31,141.20 L115.57,140.80 L115.83,140.40 L116.09,140.00 L116.34,139.60 L116.60,139.20 L116.86,138.80 L117.11,138.39 L117.37,137.98 L117.63,137.57 L117.89,137.16 L118.14,136.74 L118.40,136.32 L118.66,135.91 L118.91,135.49 L119.17,135.07 L119.43,134.65 L119.69,134.24 L119.94,133.82 L120.20,133.41 L120.46,133.00 L120.71,132.59 L120.97,132.18 L121.23,131.78 L121.49,131.38 L121.74,130.98 L122.00,130.59 L122.26,130.20 L122.51,129.82 L122.77,129.44 L123.03,129.07 L123.29,128.71 L123.54,128.35 L123.80,128.00 L124.06,127.65 L124.31,127.31 L124.57,126.97 L124.83,126.64 L125.09,126.31 L125.34,125.98 L125.60,125.66 L125.86,125.34 L126.11,125.02 L126.37,124.71 L126.63,124.40 L126.89,124.09 L127.14,123.79 L127.40,123.49 L127.66,123.19 L127.91,122.90 L128.17,122.61 L128.43,122.33 L128.69,122.05 L128.94,121.77 L129.20,121.50 L129.80,126.00 L130.30,140.00 L130.90,130.00 L131.60,122.50 L132.40,121.50 L133.30,117.00 L134.30,113.20 L135.30,114.80 L135.30,114.80 L135.60,115.20 L135.90,115.58 L136.20,115.92 L136.50,116.20 L136.78,116.43 L137.07,116.63 L137.35,116.82 L137.63,116.99 L137.92,117.15 L138.20,117.30 L138.45,117.43 L138.71,117.56 L138.96,117.69 L139.22,117.82 L139.47,117.94 L139.73,118.05 L139.98,118.16 L140.24,118.26 L140.49,118.35 L140.75,118.43 L141.00,118.50 L141.25,118.56 L141.50,118.63 L141.75,118.69 L142.00,118.75 L142.25,118.81 L142.50,118.87 L142.75,118.93 L143.00,118.98 L143.25,119.03 L143.50,119.07 L143.75,119.11 L144.00,119.14 L144.25,119.16 L144.50,119.18 L144.75,119.20 L145.00,119.20 L145.25,119.20 L145.50,119.20 L145.75,119.20 L146.00,119.20 L146.25,119.20 L146.50,119.20 L146.75,119.20 L147.00,119.20 L147.25,119.20 L147.50,119.20 L147.75,119.20 L148.00,119.20 L148.25,119.20 L148.50,119.20 L148.75,119.20 L149.00,119.20 L149.25,119.20 L149.50,119.20 L149.75,119.20 L150.00,119.20 L150.25,119.20 L150.50,119.20 L150.75,119.20 L151.00,119.20 L151.25,119.20 L151.50,119.20 L151.75,119.20 L152.00,119.20 L152.25,119.20 L152.50,119.20 L152.75,119.20 L153.00,119.20 L153.25,119.20 L153.50,119.20 L153.75,119.20 L154.00,119.20 L154.25,119.20 L154.50,119.20 L154.75,119.20 L155.00,119.20 L155.25,119.20 L155.50,119.20 L155.75,119.20 L156.00,119.20 L156.25,119.20 L156.50,119.20 L156.75,119.20 L157.00,119.20 L157.25,119.20 L157.50,119.20 L157.75,119.20 L158.00,119.20 L158.25,119.20 L158.50,119.20 L158.75,119.20 L159.00,119.20 L159.25,119.20 L159.50,119.20 L159.75,119.20 L160.00,119.20 L160.25,119.20 L160.50,119.20 L160.75,119.20 L161.00,119.20 L161.25,119.20 L161.50,119.20 L161.75,119.20 L162.00,119.20 L162.25,119.20 L162.50,119.20 L162.75,119.20 L163.00,119.20 L163.25,119.20 L163.50,119.20 L163.75,119.20 L164.00,119.20 L164.25,119.20 L164.50,119.20 L164.75,119.20 L165.00,119.20 L165.25,119.20 L165.50,119.20 L165.75,119.20 L166.00,119.20 L166.25,119.20 L166.50,119.19 L166.75,119.19 L167.00,119.19 L167.25,119.19 L167.50,119.18 L167.75,119.18 L168.00,119.18 L168.25,119.17 L168.50,119.17 L168.75,119.16 L169.00,119.16 L169.25,119.15 L169.50,119.15 L169.75,119.14 L170.00,119.14 L170.25,119.13 L170.50,119.13 L170.75,119.12 L171.00,119.11 L171.25,119.11 L171.50,119.10 L171.75,119.09 L172.00,119.09 L172.25,119.08 L172.50,119.07 L172.75,119.06 L173.00,119.05 L173.25,119.05 L173.50,119.04 L173.75,119.03 L174.00,119.02 L174.25,119.01 L174.50,119.00 L174.75,118.99 L175.00,118.99 L175.25,118.98 L175.50,118.97 L175.75,118.96 L176.00,118.95 L176.25,118.94 L176.50,118.93 L176.75,118.92 L177.00,118.91 L177.25,118.90 L177.50,118.89 L177.75,118.88 L178.00,118.87 L178.25,118.86 L178.50,118.85 L178.75,118.84 L179.00,118.83 L179.25,118.82 L179.50,118.81 L179.75,118.80 L180.00,118.79 L180.25,118.78 L180.50,118.77 L180.75,118.76 L181.00,118.75 L181.25,118.74 L181.50,118.73 L181.75,118.72 L182.00,118.71 L182.25,118.70 L182.50,118.69 L182.75,118.68 L183.00,118.67 L183.25,118.66 L183.50,118.65 L183.75,118.64 L184.00,118.64 L184.25,118.63 L184.50,118.62 L184.75,118.61 L185.00,118.60 L185.25,118.59 L185.50,118.58 L185.75,118.57 L186.00,118.56 L186.25,118.56 L186.50,118.55 L186.75,118.54 L187.00,118.53 L187.25,118.52 L187.50,118.51 L187.75,118.50 L188.00,118.49 L188.25,118.48 L188.50,118.47 L188.75,118.46 L189.00,118.45 L189.25,118.44 L189.50,118.43 L189.75,118.42 L190.00,118.41 L190.25,118.40 L190.50,118.39 L190.75,118.38 L191.00,118.37 L191.25,118.36 L191.50,118.35 L191.75,118.34 L192.00,118.33 L192.25,118.32 L192.50,118.31 L192.75,118.30 L193.00,118.29 L193.25,118.27 L193.50,118.26 L193.75,118.25 L194.00,118.24 L194.25,118.23 L194.50,118.22 L194.75,118.21 L195.00,118.20 L195.25,118.19 L195.50,118.18 L195.75,118.17 L196.00,118.16 L196.25,118.15 L196.50,118.14 L196.75,118.13 L197.00,118.11 L197.25,118.10 L197.50,118.09 L197.75,118.08 L198.00,118.07 L198.25,118.06 L198.50,118.05 L198.75,118.04 L199.00,118.03 L199.25,118.02 L199.50,118.01 L199.75,118.00 L200.00,117.99 L200.25,117.98 L200.50,117.97 L200.75,117.96 L201.00,117.95 L201.25,117.94 L201.50,117.93 L201.75,117.92 L202.00,117.91 L202.25,117.90 L202.50,117.89 L202.75,117.88 L203.00,117.87 L203.25,117.86 L203.50,117.85 L203.75,117.84 L204.00,117.84 L204.25,117.83 L204.50,117.82 L204.75,117.81 L205.00,117.80 L205.25,117.79 L205.50,117.78 L205.75,117.77 L206.00,117.77 L206.25,117.76 L206.50,117.75 L206.75,117.74 L207.00,117.73 L207.25,117.72 L207.50,117.71 L207.75,117.70 L208.00,117.69 L208.25,117.69 L208.50,117.68 L208.75,117.67 L209.00,117.66 L209.25,117.65 L209.50,117.64 L209.75,117.63 L210.00,117.62 L210.25,117.61 L210.50,117.61 L210.75,117.60 L211.00,117.59 L211.25,117.58 L211.50,117.57 L211.75,117.56 L212.00,117.55 L212.25,117.54 L212.50,117.53 L212.75,117.53 L213.00,117.52 L213.25,117.51 L213.50,117.50 L213.75,117.49 L214.00,117.48 L214.25,117.47 L214.50,117.47 L214.75,117.46 L215.00,117.45 L215.25,117.44 L215.50,117.43 L215.75,117.43 L216.00,117.42 L216.25,117.41 L216.50,117.40 L216.75,117.39 L217.00,117.39 L217.25,117.38 L217.50,117.37 L217.75,117.36 L218.00,117.36 L218.25,117.35 L218.50,117.34 L218.75,117.34 L219.00,117.33 L219.25,117.32 L219.50,117.31 L219.75,117.31 L220.00,117.30 L220.25,117.30 L220.50,117.29 L220.75,117.28 L221.00,117.28 L221.25,117.27 L221.50,117.27 L221.75,117.26 L222.00,117.25 L222.25,117.25 L222.50,117.24 L222.75,117.24 L223.00,117.23 L223.25,117.23 L223.50,117.22 L223.75,117.22 L224.00,117.22 L224.25,117.21 L224.50,117.21 L224.75,117.20 L225.00,117.20 L225.25,117.20 L225.51,117.19 L225.76,117.19 L226.02,117.19 L226.27,117.18 L226.52,117.18 L226.78,117.18 L227.03,117.17 L227.28,117.17 L227.54,117.17 L227.79,117.16 L228.05,117.16 L228.30,117.16 L228.55,117.15 L228.81,117.15 L229.06,117.15 L229.32,117.14 L229.57,117.14 L229.82,117.14 L230.08,117.14 L230.33,117.13 L230.58,117.13 L230.84,117.13 L231.09,117.13 L231.35,117.12 L231.60,117.12 L231.85,117.12 L232.11,117.12 L232.36,117.11 L232.62,117.11 L232.87,117.11 L233.12,117.11 L233.38,117.11 L233.63,117.11 L233.88,117.10 L234.14,117.10 L234.39,117.10 L234.65,117.10 L234.90,117.10 L235.30,120.00 L236.10,126.80 L237.40,127.30 L245.90,126.90 L270.50,125.80 L271.20,120.00 L271.20,120.00 L271.55,117.95 L271.90,116.60 L272.15,116.09 L272.40,115.70 L272.65,115.40 L272.90,115.20 L273.16,115.05 L273.42,114.91 L273.68,114.80 L273.94,114.73 L274.20,114.70 L274.45,114.71 L274.71,114.73 L274.96,114.77 L275.21,114.81 L275.47,114.87 L275.72,114.93 L275.97,115.00 L276.23,115.07 L276.48,115.14 L276.73,115.21 L276.99,115.28 L277.24,115.35 L277.49,115.41 L277.75,115.46 L278.00,115.50 L278.25,115.53 L278.50,115.57 L278.75,115.60 L279.00,115.63 L279.25,115.67 L279.50,115.70 L279.75,115.73 L280.00,115.76 L280.25,115.79 L280.50,115.82 L280.75,115.84 L281.00,115.87 L281.25,115.90 L281.50,115.92 L281.75,115.95 L282.00,115.97 L282.25,115.99 L282.50,116.02 L282.75,116.04 L283.00,116.06 L283.25,116.08 L283.50,116.10 L283.75,116.12 L284.00,116.13 L284.25,116.15 L284.50,116.17 L284.75,116.18 L285.00,116.20 L285.25,116.21 L285.50,116.23 L285.75,116.24 L286.00,116.26 L286.25,116.27 L286.50,116.29 L286.75,116.30 L287.00,116.32 L287.25,116.33 L287.50,116.35 L287.75,116.36 L288.00,116.37 L288.25,116.39 L288.50,116.40 L288.75,116.42 L289.00,116.43 L289.25,116.44 L289.50,116.46 L289.75,116.47 L290.00,116.48 L290.25,116.49 L290.50,116.51 L290.75,116.52 L291.00,116.53 L291.25,116.54 L291.50,116.55 L291.75,116.56 L292.00,116.57 L292.25,116.58 L292.50,116.59 L292.75,116.60 L293.00,116.61 L293.25,116.62 L293.50,116.63 L293.75,116.64 L294.00,116.64 L294.25,116.65 L294.50,116.66 L294.75,116.66 L295.00,116.67 L295.25,116.67 L295.50,116.68 L295.75,116.68 L296.00,116.69 L296.25,116.69 L296.50,116.69 L296.75,116.70 L297.00,116.70 L297.25,116.70 L297.50,116.70 L298.30,109.00 L299.50,106.80 L299.50,106.80 L299.75,106.66 L300.00,106.52 L300.25,106.38 L300.50,106.24 L300.75,106.11 L301.00,105.98 L301.25,105.86 L301.50,105.74 L301.75,105.62 L302.00,105.52 L302.25,105.42 L302.50,105.34 L302.75,105.26 L303.00,105.20 L303.25,105.14 L303.50,105.09 L303.75,105.03 L304.00,104.98 L304.25,104.93 L304.50,104.88 L304.75,104.84 L305.00,104.79 L305.25,104.75 L305.50,104.71 L305.75,104.67 L306.00,104.63 L306.25,104.59 L306.50,104.56 L306.75,104.52 L307.00,104.49 L307.25,104.46 L307.50,104.43 L307.75,104.40 L308.00,104.37 L308.25,104.35 L308.50,104.32 L308.75,104.30 L309.00,104.28 L309.25,104.26 L309.50,104.24 L309.75,104.22 L310.00,104.20 L310.25,104.18 L310.50,104.17 L310.75,104.15 L311.00,104.13 L311.25,104.12 L311.50,104.10 L311.75,104.09 L312.00,104.07 L312.25,104.06 L312.50,104.04 L312.75,104.03 L313.00,104.01 L313.25,104.00 L313.50,103.99 L313.75,103.97 L314.00,103.96 L314.25,103.95 L314.50,103.93 L314.75,103.92 L315.00,103.91 L315.25,103.90 L315.50,103.89 L315.75,103.87 L316.00,103.86 L316.25,103.85 L316.50,103.84 L316.75,103.83 L317.00,103.82 L317.25,103.81 L317.50,103.80 L317.75,103.79 L318.00,103.78 L318.25,103.77 L318.50,103.76 L318.75,103.75 L319.00,103.74 L319.25,103.73 L319.50,103.72 L319.75,103.72 L320.00,103.71 L320.25,103.70 L320.50,103.69 L320.75,103.69 L321.00,103.68 L321.25,103.67 L321.50,103.67 L321.75,103.66 L322.00,103.65 L322.25,103.65 L322.50,103.64 L322.75,103.64 L323.00,103.63 L323.25,103.63 L323.50,103.62 L323.75,103.62 L324.00,103.61 L324.25,103.61 L324.50,103.61 L324.75,103.60 L325.00,103.60 L325.25,103.60 L325.50,103.59 L325.75,103.59 L326.01,103.59 L326.26,103.58 L326.51,103.58 L326.76,103.58 L327.01,103.58 L327.26,103.57 L327.51,103.57 L327.76,103.57 L328.02,103.56 L328.27,103.56 L328.52,103.56 L328.77,103.55 L329.02,103.55 L329.27,103.55 L329.52,103.55 L329.77,103.54 L330.03,103.54 L330.28,103.54 L330.53,103.54 L330.78,103.53 L331.03,103.53 L331.28,103.53 L331.53,103.52 L331.78,103.52 L332.04,103.52 L332.29,103.52 L332.54,103.51 L332.79,103.51 L333.04,103.51 L333.29,103.51 L333.54,103.51 L333.79,103.50 L334.05,103.50 L334.30,103.50 L334.55,103.50 L334.80,103.49 L335.05,103.49 L335.30,103.49 L335.55,103.49 L335.81,103.48 L336.06,103.48 L336.31,103.48 L336.56,103.48 L336.81,103.48 L337.06,103.47 L337.31,103.47 L337.56,103.47 L337.82,103.47 L338.07,103.47 L338.32,103.46 L338.57,103.46 L338.82,103.46 L339.07,103.46 L339.32,103.46 L339.57,103.45 L339.83,103.45 L340.08,103.45 L340.33,103.45 L340.58,103.45 L340.83,103.45 L341.08,103.44 L341.33,103.44 L341.58,103.44 L341.84,103.44 L342.09,103.44 L342.34,103.44 L342.59,103.44 L342.84,103.43 L343.09,103.43 L343.34,103.43 L343.59,103.43 L343.85,103.43 L344.10,103.43 L344.35,103.43 L344.60,103.42 L344.85,103.42 L345.10,103.42 L345.35,103.42 L345.61,103.42 L345.86,103.42 L346.11,103.42 L346.36,103.42 L346.61,103.42 L346.86,103.41 L347.11,103.41 L347.36,103.41 L347.62,103.41 L347.87,103.41 L348.12,103.41 L348.37,103.41 L348.62,103.41 L348.87,103.41 L349.12,103.41 L349.37,103.41 L349.63,103.41 L349.88,103.41 L350.13,103.40 L350.38,103.40 L350.63,103.40 L350.88,103.40 L351.13,103.40 L351.38,103.40 L351.64,103.40 L351.89,103.40 L352.14,103.40 L352.39,103.40 L352.64,103.40 L352.89,103.40 L353.14,103.40 L353.39,103.40 L353.65,103.40 L353.90,103.40 L354.15,103.40 L354.40,103.40 L355.10,96.00 L356.00,92.50 L357.80,91.60 L362.00,92.20 L380.00,93.00 L409.90,93.60 L409.90,93.60 L410.20,96.30 L410.50,100.00 L410.80,105.27 L411.10,111.00 L411.40,116.07 L411.70,120.00 L412.00,122.44 L412.30,124.31 L412.60,125.50 L412.88,126.20 L413.16,126.77 L413.44,127.23 L413.72,127.57 L414.00,127.80 L414.25,127.94 L414.50,128.08 L414.75,128.20 L415.00,128.31 L415.25,128.41 L415.50,128.50 L415.75,128.57 L416.00,128.64 L416.25,128.70 L416.50,128.74 L416.75,128.78 L417.00,128.80 L417.25,128.82 L417.50,128.84 L417.75,128.85 L418.00,128.87 L418.25,128.88 L418.50,128.90 L418.75,128.91 L419.00,128.93 L419.25,128.94 L419.50,128.95 L419.75,128.96 L420.00,128.97 L420.25,128.97 L420.50,128.98 L420.75,128.99 L421.00,128.99 L421.25,129.00 L421.50,129.00 L421.75,129.00 L422.00,129.00 L422.25,129.00 L422.50,128.99 L422.75,128.98 L423.00,128.96 L423.25,128.94 L423.50,128.92 L423.75,128.89 L424.00,128.86 L424.25,128.83 L424.50,128.80 L424.75,128.76 L425.00,128.73 L425.25,128.70 L425.50,128.66 L425.75,128.63 L426.00,128.60 L426.25,128.57 L426.50,128.53 L426.75,128.50 L427.00,128.46 L427.25,128.41 L427.50,128.37 L427.75,128.33 L428.00,128.29 L428.25,128.24 L428.50,128.20 L428.75,128.16 L429.00,128.12 L429.25,128.09 L429.50,128.05 L429.75,128.03 L430.00,128.00 L430.25,127.98 L430.50,127.96 L430.75,127.94 L431.00,127.92 L431.25,127.90 L431.50,127.88 L431.75,127.86 L432.00,127.84 L432.25,127.83 L432.50,127.81 L432.75,127.80 L433.00,127.78 L433.25,127.77 L433.50,127.76 L433.75,127.74 L434.00,127.73 L434.25,127.72 L434.50,127.70 L434.75,127.69 L435.00,127.68 L435.25,127.67 L435.50,127.66 L435.75,127.64 L436.00,127.63 L436.25,127.62 L436.50,127.61 L436.75,127.59 L437.00,127.58 L437.25,127.57 L437.50,127.56 L437.75,127.54 L438.00,127.53 L438.25,127.51 L438.50,127.50 L438.75,127.49 L439.00,127.47 L439.25,127.45 L439.50,127.44 L439.75,127.42 L440.00,127.40 L440.25,127.38 L440.50,127.36 L440.75,127.34 L441.00,127.32 L441.25,127.30 L441.50,127.27 L441.75,127.25 L442.00,127.23 L442.25,127.20 L442.50,127.18 L442.75,127.15 L443.00,127.13 L443.25,127.10 L443.50,127.07 L443.75,127.05 L444.00,127.02 L444.25,126.99 L444.50,126.96 L444.75,126.94 L445.00,126.91 L445.25,126.88 L445.50,126.85 L445.75,126.83 L446.00,126.80 L446.25,126.77 L446.50,126.74 L446.75,126.72 L447.00,126.69 L447.25,126.66 L447.50,126.64 L447.75,126.61 L448.00,126.59 L448.25,126.56 L448.50,126.54 L448.75,126.51 L449.00,126.49 L449.25,126.46 L449.50,126.44 L449.75,126.42 L450.00,126.40 L450.25,126.38 L450.50,126.36 L450.75,126.34 L451.00,126.32 L451.25,126.30 L451.50,126.28 L451.75,126.26 L452.00,126.24 L452.25,126.22 L452.50,126.20 L452.75,126.18 L453.00,126.16 L453.25,126.14 L453.50,126.12 L453.75,126.10 L454.00,126.08 L454.25,126.07 L454.50,126.05 L454.75,126.03 L455.00,126.01 L455.25,125.99 L455.50,125.98 L455.75,125.96 L456.00,125.94 L456.25,125.92 L456.50,125.91 L456.75,125.89 L457.00,125.87 L457.25,125.86 L457.50,125.84 L457.75,125.83 L458.00,125.81 L458.25,125.80 L458.50,125.78 L458.75,125.77 L459.00,125.75 L459.25,125.74 L459.50,125.73 L459.75,125.71 L460.00,125.70 L460.25,125.69 L460.50,125.67 L460.75,125.66 L461.00,125.65 L461.25,125.63 L461.50,125.62 L461.75,125.61 L462.00,125.59 L462.25,125.58 L462.50,125.57 L462.75,125.55 L463.00,125.54 L463.25,125.53 L463.50,125.51 L463.75,125.50 L464.00,125.49 L464.25,125.47 L464.50,125.46 L464.75,125.45 L465.00,125.44 L465.25,125.42 L465.50,125.41 L465.75,125.40 L466.00,125.39 L466.25,125.38 L466.50,125.37 L466.75,125.36 L467.00,125.35 L467.25,125.35 L467.50,125.34 L467.75,125.33 L468.00,125.33 L468.25,125.32 L468.50,125.31 L468.75,125.31 L469.00,125.31 L469.25,125.30 L469.50,125.30 L469.75,125.30 L470.00,125.30 L470.25,125.30 L470.50,125.30 L470.75,125.30 L471.00,125.31 L471.25,125.31 L471.50,125.31 L471.75,125.32 L472.00,125.32 L472.25,125.33 L472.50,125.33 L472.75,125.34 L473.00,125.34 L473.25,125.35 L473.50,125.36 L473.75,125.36 L474.00,125.37 L474.25,125.38 L474.50,125.39 L474.75,125.40 L475.00,125.41 L475.25,125.42 L475.50,125.43 L475.75,125.44 L476.00,125.45 L476.25,125.45 L476.50,125.46 L476.75,125.47 L477.00,125.48 L477.25,125.49 L477.50,125.50 L477.75,125.51 L478.00,125.52 L478.25,125.53 L478.50,125.54 L478.75,125.55 L479.00,125.56 L479.25,125.57 L479.50,125.58 L479.75,125.59 L480.00,125.60 L480.25,125.61 L480.50,125.62 L480.75,125.63 L481.00,125.64 L481.25,125.65 L481.50,125.66 L481.75,125.67 L482.00,125.68 L482.25,125.69 L482.50,125.71 L482.75,125.72 L483.00,125.73 L483.25,125.74 L483.50,125.76 L483.75,125.77 L484.00,125.78 L484.25,125.79 L484.50,125.81 L484.75,125.82 L485.00,125.83 L485.25,125.84 L485.50,125.85 L485.75,125.87 L486.00,125.88 L486.25,125.89 L486.50,125.90 L486.75,125.91 L487.00,125.92 L487.25,125.93 L487.50,125.94 L487.75,125.95 L488.00,125.96 L488.25,125.96 L488.50,125.97 L488.75,125.98 L489.00,125.98 L489.25,125.99 L489.50,125.99 L489.75,126.00 L490.00,126.00 L490.25,126.00 L490.50,126.00 L490.75,126.01 L491.00,126.01 L491.25,126.01 L491.50,126.01 L491.75,126.02 L492.00,126.02 L492.25,126.02 L492.50,126.02 L492.75,126.03 L493.00,126.03 L493.25,126.03 L493.50,126.03 L493.75,126.03 L494.00,126.04 L494.25,126.04 L494.50,126.04 L494.75,126.04 L495.00,126.04 L495.25,126.04 L495.50,126.05 L495.75,126.05 L496.00,126.05 L496.25,126.05 L496.50,126.05 L496.75,126.06 L497.00,126.06 L497.25,126.06 L497.50,126.06 L497.75,126.06 L498.00,126.06 L498.25,126.06 L498.50,126.07 L498.75,126.07 L499.00,126.07 L499.25,126.07 L499.50,126.07 L499.75,126.07 L500.00,126.07 L500.25,126.08 L500.50,126.08 L500.75,126.08 L501.00,126.08 L501.25,126.08 L501.50,126.08 L501.75,126.08 L502.00,126.08 L502.25,126.08 L502.50,126.09 L502.75,126.09 L503.00,126.09 L503.25,126.09 L503.50,126.09 L503.75,126.09 L504.00,126.09 L504.25,126.09 L504.50,126.09 L504.75,126.09 L505.00,126.09 L505.25,126.09 L505.50,126.09 L505.75,126.10 L506.00,126.10 L506.25,126.10 L506.50,126.10 L506.75,126.10 L507.00,126.10 L507.25,126.10 L507.50,126.10 L507.75,126.10 L508.00,126.10 L508.25,126.10 L508.50,126.10 L508.75,126.10 L509.00,126.10 L509.25,126.10 L509.50,126.10 L509.75,126.10 L510.00,126.10 L510.25,126.10 L510.50,126.10 L510.75,126.10 L511.00,126.10 L511.25,126.10 L511.51,126.10 L511.76,126.10 L512.01,126.10 L512.26,126.10 L512.51,126.10 L512.76,126.10 L513.01,126.10 L513.26,126.10 L513.51,126.10 L513.76,126.10 L514.02,126.10 L514.27,126.10 L514.52,126.10 L514.77,126.10 L515.02,126.10 L515.27,126.10 L515.52,126.10 L515.77,126.10 L516.02,126.10 L516.27,126.10 L516.53,126.09 L516.78,126.09 L517.03,126.09 L517.28,126.09 L517.53,126.09 L517.78,126.09 L518.03,126.09 L518.28,126.09 L518.53,126.09 L518.78,126.09 L519.04,126.09 L519.29,126.09 L519.54,126.09 L519.79,126.09 L520.04,126.09 L520.29,126.09 L520.54,126.09 L520.79,126.09 L521.04,126.08 L521.29,126.08 L521.55,126.08 L521.80,126.08 L522.05,126.08 L522.30,126.08 L522.55,126.08 L522.80,126.08 L523.05,126.08 L523.30,126.08 L523.55,126.08 L523.80,126.07 L524.05,126.07 L524.31,126.07 L524.56,126.07 L524.81,126.07 L525.06,126.07 L525.31,126.07 L525.56,126.07 L525.81,126.07 L526.06,126.06 L526.31,126.06 L526.56,126.06 L526.82,126.06 L527.07,126.06 L527.32,126.06 L527.57,126.06 L527.82,126.06 L528.07,126.05 L528.32,126.05 L528.57,126.05 L528.82,126.05 L529.07,126.05 L529.33,126.05 L529.58,126.05 L529.83,126.04 L530.08,126.04 L530.33,126.04 L530.58,126.04 L530.83,126.04 L531.08,126.04 L531.33,126.03 L531.58,126.03 L531.84,126.03 L532.09,126.03 L532.34,126.03 L532.59,126.02 L532.84,126.02 L533.09,126.02 L533.34,126.02 L533.59,126.02 L533.84,126.01 L534.09,126.01 L534.35,126.01 L534.60,126.01 L534.85,126.01 L535.10,126.00 L535.35,126.00 L535.60,126.00" stroke="#ff0000"/>
<path d="M64.20,258.60 L129.50,258.60 L129.70,122.00 L129.70,122.00 L129.96,121.43 L130.22,120.86 L130.48,120.30 L130.74,119.75 L131.00,119.20 L131.25,118.67 L131.50,118.12 L131.75,117.57 L132.00,117.02 L132.25,116.50 L132.50,116.02 L132.75,115.58 L133.00,115.20 L133.25,114.84 L133.50,114.48 L133.75,114.14 L134.00,113.86 L134.25,113.67 L134.50,113.60 L134.75,113.67 L135.00,113.85 L135.25,114.11 L135.50,114.41 L135.75,114.72 L136.00,115.00 L136.25,115.27 L136.50,115.56 L136.75,115.86 L137.00,116.16 L137.25,116.47 L137.50,116.76 L137.75,117.04 L138.00,117.30 L138.25,117.54 L138.50,117.77 L138.75,117.99 L139.00,118.21 L139.25,118.42 L139.50,118.62 L139.75,118.81 L140.00,119.00 L140.25,119.19 L140.50,119.38 L140.75,119.56 L141.00,119.75 L141.25,119.91 L141.50,120.07 L141.75,120.20 L142.00,120.30 L142.25,120.39 L142.50,120.47 L142.75,120.55 L143.00,120.63 L143.25,120.70 L143.50,120.77 L143.75,120.83 L144.00,120.88 L144.25,120.92 L144.50,120.96 L144.75,120.98 L145.00,121.00 L145.25,121.01 L145.50,121.02 L145.75,121.03 L146.00,121.04 L146.25,121.04 L146.50,121.05 L146.75,121.06 L147.00,121.06 L147.25,121.07 L147.50,121.07 L147.75,121.08 L148.00,121.08 L148.25,121.09 L148.50,121.09 L148.75,121.09 L149.00,121.10 L149.25,121.10 L149.50,121.10 L149.75,121.10 L150.00,121.10 L150.25,121.10 L150.50,121.10 L150.75,121.10 L151.00,121.10 L151.25,121.10 L151.50,121.10 L151.75,121.10 L152.00,121.10 L152.25,121.10 L152.50,121.10 L152.75,121.10 L153.00,121.10 L153.25,121.10 L153.50,121.10 L153.75,121.10 L154.00,121.10 L154.25,121.10 L154.50,121.10 L154.75,121.10 L155.00,121.10 L155.25,121.10 L155.50,121.10 L155.75,121.10 L156.00,121.10 L156.25,121.10 L156.50,121.10 L156.75,121.10 L157.00,121.10 L157.25,121.10 L157.50,121.10 L157.75,121.10 L158.00,121.10 L158.25,121.10 L158.50,121.10 L158.75,121.10 L159.00,121.10 L159.25,121.10 L159.50,121.10 L159.75,121.10 L160.00,121.10 L160.25,121.10 L160.50,121.10 L160.75,121.10 L161.00,121.10 L161.25,121.10 L161.50,121.10 L161.75,121.10 L162.00,121.10 L162.25,121.10 L162.50,121.10 L162.75,121.10 L163.00,121.10 L163.25,121.10 L163.50,121.10 L163.75,121.10 L164.00,121.10 L164.25,121.10 L164.50,121.10 L164.75,121.10 L165.00,121.10 L165.25,121.10 L165.50,121.10 L165.75,121.10 L166.00,121.10 L166.25,121.10 L166.50,121.10 L166.75,121.10 L167.00,121.10 L167.25,121.10 L167.50,121.10 L167.75,121.10 L168.00,121.10 L168.25,121.10 L168.50,121.10 L168.75,121.10 L169.00,121.10 L169.25,121.10 L169.50,121.10 L169.75,121.10 L170.00,121.10 L170.25,121.10 L170.50,121.10 L170.75,121.10 L171.00,121.10 L171.25,121.10 L171.50,121.10 L171.75,121.10 L172.00,121.10 L172.25,121.10 L172.50,121.10 L172.75,121.10 L173.00,121.10 L173.25,121.10 L173.50,121.10 L173.75,121.10 L174.00,121.10 L174.25,121.10 L174.50,121.10 L174.75,121.10 L175.00,121.10 L175.25,121.10 L175.50,121.10 L175.75,121.10 L176.00,121.10 L176.25,121.10 L176.50,121.10 L176.75,121.10 L177.00,121.10 L177.25,121.10 L177.50,121.10 L177.75,121.10 L178.00,121.10 L178.25,121.10 L178.50,121.10 L178.75,121.10 L179.00,121.10 L179.25,121.10 L179.50,121.10 L179.75,121.10 L180.00,121.10 L180.25,121.10 L180.50,121.10 L180.75,121.10 L181.00,121.10 L181.25,121.10 L181.50,121.10 L181.75,121.10 L182.00,121.10 L182.25,121.10 L182.50,121.10 L182.75,121.10 L183.00,121.10 L183.25,121.10 L183.50,121.10 L183.75,121.10 L184.00,121.10 L184.25,121.10 L184.50,121.10 L184.75,121.10 L185.00,121.10 L185.25,121.10 L185.50,121.10 L185.75,121.10 L186.00,121.10 L186.25,121.10 L186.50,121.10 L186.75,121.10 L187.00,121.10 L187.25,121.10 L187.50,121.10 L187.75,121.10 L188.00,121.10 L188.25,121.10 L188.50,121.10 L188.75,121.10 L189.00,121.10 L189.25,121.10 L189.50,121.10 L189.75,121.10 L190.00,121.10 L190.25,121.10 L190.50,121.10 L190.75,121.10 L191.00,121.10 L191.25,121.10 L191.50,121.10 L191.75,121.10 L192.00,121.10 L192.25,121.10 L192.50,121.10 L192.75,121.10 L193.00,121.10 L193.25,121.10 L193.50,121.10 L193.75,121.10 L194.00,121.10 L194.25,121.10 L194.50,121.10 L194.75,121.10 L195.00,121.10 L195.25,121.10 L195.50,121.10 L195.75,121.10 L196.00,121.10 L196.25,121.10 L196.50,121.10 L196.75,121.10 L197.00,121.10 L197.25,121.10 L197.50,121.10 L197.75,121.10 L198.00,121.10 L198.25,121.10 L198.50,121.10 L198.75,121.10 L199.00,121.10 L199.25,121.10 L199.50,121.10 L199.75,121.10 L200.00,121.10 L200.25,121.10 L200.50,121.10 L200.75,121.10 L201.00,121.10 L201.26,121.10 L201.51,121.10 L201.76,121.10 L202.01,121.10 L202.26,121.10 L202.51,121.10 L202.76,121.10 L203.01,121.10 L203.26,121.10 L203.52,121.10 L203.77,121.10 L204.02,121.10 L204.27,121.10 L204.52,121.10 L204.77,121.10 L205.02,121.10 L205.27,121.10 L205.52,121.10 L205.77,121.10 L206.03,121.10 L206.28,121.10 L206.53,121.11 L206.78,121.11 L207.03,121.11 L207.28,121.11 L207.53,121.11 L207.78,121.11 L208.03,121.11 L208.29,121.11 L208.54,121.11 L208.79,121.11 L209.04,121.11 L209.29,121.11 L209.54,121.11 L209.79,121.11 L210.04,121.11 L210.29,121.11 L210.55,121.11 L210.80,121.11 L211.05,121.11 L211.30,121.11 L211.55,121.12 L211.80,121.12 L212.05,121.12 L212.30,121.12 L212.55,121.12 L212.81,121.12 L213.06,121.12 L213.31,121.12 L213.56,121.12 L213.81,121.12 L214.06,121.12 L214.31,121.12 L214.56,121.12 L214.81,121.12 L215.06,121.12 L215.32,121.13 L215.57,121.13 L215.82,121.13 L216.07,121.13 L216.32,121.13 L216.57,121.13 L216.82,121.13 L217.07,121.13 L217.32,121.13 L217.58,121.13 L217.83,121.13 L218.08,121.13 L218.33,121.14 L218.58,121.14 L218.83,121.14 L219.08,121.14 L219.33,121.14 L219.58,121.14 L219.84,121.14 L220.09,121.14 L220.34,121.14 L220.59,121.14 L220.84,121.14 L221.09,121.15 L221.34,121.15 L221.59,121.15 L221.84,121.15 L222.09,121.15 L222.35,121.15 L222.60,121.15 L222.85,121.15 L223.10,121.15 L223.35,121.15 L223.60,121.15 L223.85,121.16 L224.10,121.16 L224.35,121.16 L224.61,121.16 L224.86,121.16 L225.11,121.16 L225.36,121.16 L225.61,121.16 L225.86,121.16 L226.11,121.16 L226.36,121.17 L226.61,121.17 L226.87,121.17 L227.12,121.17 L227.37,121.17 L227.62,121.17 L227.87,121.17 L228.12,121.17 L228.37,121.17 L228.62,121.17 L228.87,121.18 L229.13,121.18 L229.38,121.18 L229.63,121.18 L229.88,121.18 L230.13,121.18 L230.38,121.18 L230.63,121.18 L230.88,121.18 L231.13,121.18 L231.38,121.19 L231.64,121.19 L231.89,121.19 L232.14,121.19 L232.39,121.19 L232.64,121.19 L232.89,121.19 L233.14,121.19 L233.39,121.19 L233.64,121.19 L233.90,121.20 L234.15,121.20 L234.40,121.20 L234.65,121.20 L234.90,121.20 L235.30,124.00 L236.10,127.60 L237.40,127.50 L270.50,126.80 L271.30,122.00 L272.10,121.20 L297.50,121.50 L298.30,115.00 L299.50,113.00 L299.50,113.00 L299.75,112.94 L300.00,112.87 L300.25,112.81 L300.50,112.74 L300.75,112.68 L301.00,112.62 L301.25,112.55 L301.50,112.49 L301.75,112.43 L302.00,112.37 L302.25,112.31 L302.50,112.25 L302.75,112.20 L303.00,112.14 L303.25,112.09 L303.50,112.04 L303.75,112.00 L304.00,111.95 L304.25,111.91 L304.50,111.87 L304.75,111.83 L305.00,111.80 L305.25,111.77 L305.50,111.74 L305.75,111.71 L306.00,111.68 L306.25,111.65 L306.50,111.62 L306.75,111.59 L307.00,111.57 L307.25,111.54 L307.50,111.51 L307.75,111.49 L308.00,111.46 L308.25,111.44 L308.50,111.41 L308.75,111.39 L309.00,111.37 L309.25,111.34 L309.50,111.32 L309.75,111.30 L310.00,111.28 L310.25,111.26 L310.50,111.24 L310.75,111.22 L311.00,111.19 L311.25,111.17 L311.50,111.16 L311.75,111.14 L312.00,111.12 L312.25,111.10 L312.50,111.08 L312.75,111.06 L313.00,111.04 L313.25,111.03 L313.50,111.01 L313.75,110.99 L314.00,110.98 L314.25,110.96 L314.50,110.94 L314.75,110.93 L315.00,110.91 L315.25,110.89 L315.50,110.88 L315.75,110.86 L316.00,110.85 L316.25,110.83 L316.50,110.81 L316.75,110.80 L317.00,110.78 L317.25,110.77 L317.50,110.75 L317.75,110.74 L318.00,110.72 L318.25,110.71 L318.50,110.69 L318.75,110.68 L319.00,110.66 L319.25,110.65 L319.50,110.63 L319.75,110.62 L320.00,110.60 L320.25,110.58 L320.50,110.57 L320.75,110.55 L321.00,110.54 L321.25,110.52 L321.50,110.50 L321.75,110.49 L322.00,110.47 L322.25,110.45 L322.50,110.44 L322.75,110.42 L323.00,110.40 L323.25,110.39 L323.50,110.37 L323.75,110.35 L324.00,110.34 L324.25,110.32 L324.50,110.30 L324.75,110.29 L325.00,110.27 L325.25,110.25 L325.50,110.23 L325.75,110.22 L326.00,110.20 L326.25,110.18 L326.50,110.17 L326.75,110.15 L327.00,110.13 L327.25,110.12 L327.50,110.10 L327.75,110.08 L328.00,110.07 L328.25,110.05 L328.50,110.04 L328.75,110.02 L329.00,110.01 L329.25,109.99 L329.50,109.97 L329.75,109.96 L330.00,109.94 L330.25,109.93 L330.50,109.92 L330.75,109.90 L331.00,109.89 L331.25,109.87 L331.50,109.86 L331.75,109.85 L332.00,109.83 L332.25,109.82 L332.50,109.81 L332.75,109.79 L333.00,109.78 L333.25,109.77 L333.50,109.76 L333.75,109.75 L334.00,109.74 L334.25,109.73 L334.50,109.72 L334.75,109.71 L335.00,109.70 L335.25,109.69 L335.50,109.68 L335.75,109.67 L336.00,109.66 L336.25,109.66 L336.50,109.65 L336.75,109.64 L337.00,109.64 L337.25,109.63 L337.50,109.63 L337.75,109.62 L338.00,109.62 L338.25,109.61 L338.50,109.61 L338.75,109.61 L339.00,109.60 L339.25,109.60 L339.50,109.60 L339.75,109.60 L340.00,109.60 L340.25,109.60 L340.51,109.60 L340.76,109.60 L341.01,109.60 L341.26,109.60 L341.52,109.60 L341.77,109.60 L342.02,109.60 L342.27,109.60 L342.53,109.60 L342.78,109.60 L343.03,109.60 L343.28,109.60 L343.54,109.60 L343.79,109.60 L344.04,109.60 L344.29,109.60 L344.55,109.60 L344.80,109.60 L345.05,109.60 L345.31,109.60 L345.56,109.60 L345.81,109.60 L346.06,109.60 L346.32,109.60 L346.57,109.60 L346.82,109.60 L347.07,109.60 L347.33,109.60 L347.58,109.60 L347.83,109.60 L348.08,109.60 L348.34,109.60 L348.59,109.60 L348.84,109.60 L349.09,109.60 L349.35,109.60 L349.60,109.60 L349.85,109.60 L350.11,109.60 L350.36,109.60 L350.61,109.60 L350.86,109.60 L351.12,109.60 L351.37,109.60 L351.62,109.60 L351.87,109.60 L352.13,109.60 L352.38,109.60 L352.63,109.60 L352.88,109.60 L353.14,109.60 L353.39,109.60 L353.64,109.60 L353.89,109.60 L354.15,109.60 L354.40,109.60 L355.10,101.00 L356.00,98.30 L356.00,98.30 L356.25,98.52 L356.50,98.73 L356.75,98.95 L357.00,99.16 L357.25,99.37 L357.50,99.58 L357.75,99.79 L358.00,100.00 L358.25,100.21 L358.50,100.42 L358.75,100.63 L359.00,100.84 L359.25,101.05 L359.50,101.24 L359.75,101.43 L360.00,101.60 L360.25,101.76 L360.50,101.92 L360.75,102.07 L361.00,102.22 L361.25,102.36 L361.50,102.51 L361.75,102.64 L362.00,102.78 L362.25,102.91 L362.50,103.04 L362.75,103.17 L363.00,103.29 L363.25,103.41 L363.50,103.53 L363.75,103.65 L364.00,103.76 L364.25,103.87 L364.50,103.98 L364.75,104.09 L365.00,104.20 L365.25,104.31 L365.50,104.41 L365.75,104.52 L366.00,104.62 L366.25,104.72 L366.50,104.82 L366.75,104.92 L367.00,105.02 L367.25,105.11 L367.50,105.21 L367.75,105.30 L368.00,105.39 L368.25,105.47 L368.50,105.56 L368.75,105.64 L369.00,105.72 L369.25,105.79 L369.50,105.86 L369.75,105.93 L370.00,106.00 L370.25,106.06 L370.50,106.13 L370.75,106.19 L371.00,106.25 L371.25,106.31 L371.50,106.36 L371.75,106.42 L372.00,106.47 L372.25,106.53 L372.50,106.58 L372.75,106.63 L373.00,106.68 L373.25,106.72 L373.50,106.77 L373.75,106.81 L374.00,106.85 L374.25,106.89 L374.50,106.93 L374.75,106.97 L375.00,107.00 L375.25,107.03 L375.50,107.07 L375.75,107.10 L376.00,107.13 L376.25,107.16 L376.50,107.19 L376.75,107.22 L377.00,107.25 L377.25,107.28 L377.50,107.30 L377.75,107.33 L378.00,107.35 L378.25,107.38 L378.50,107.40 L378.75,107.42 L379.00,107.44 L379.25,107.46 L379.50,107.47 L379.75,107.49 L380.00,107.50 L380.25,107.51 L380.50,107.52 L380.75,107.53 L381.00,107.55 L381.25,107.56 L381.50,107.57 L381.75,107.58 L382.00,107.59 L382.25,107.60 L382.50,107.61 L382.75,107.62 L383.00,107.63 L383.25,107.64 L383.50,107.64 L383.75,107.65 L384.00,107.66 L384.25,107.67 L384.50,107.68 L384.75,107.69 L385.00,107.70 L385.25,107.70 L385.50,107.71 L385.75,107.72 L386.00,107.73 L386.25,107.73 L386.50,107.74 L386.75,107.75 L387.00,107.75 L387.25,107.76 L387.50,107.77 L387.75,107.77 L388.00,107.78 L388.25,107.79 L388.50,107.79 L388.75,107.80 L389.00,107.80 L389.25,107.81 L389.50,107.81 L389.75,107.82 L390.00,107.82 L390.25,107.83 L390.50,107.83 L390.75,107.84 L391.00,107.84 L391.25,107.85 L391.50,107.85 L391.75,107.86 L392.00,107.86 L392.25,107.86 L392.50,107.87 L392.75,107.87 L393.00,107.88 L393.25,107.88 L393.50,107.88 L393.75,107.89 L394.00,107.89 L394.25,107.89 L394.50,107.89 L394.75,107.90 L395.00,107.90 L395.25,107.90 L395.51,107.91 L395.76,107.91 L396.01,107.91 L396.26,107.91 L396.52,107.92 L396.77,107.92 L397.02,107.92 L397.27,107.92 L397.53,107.93 L397.78,107.93 L398.03,107.93 L398.28,107.93 L398.54,107.94 L398.79,107.94 L399.04,107.94 L399.29,107.94 L399.55,107.95 L399.80,107.95 L400.05,107.95 L400.30,107.95 L400.56,107.95 L400.81,107.96 L401.06,107.96 L401.31,107.96 L401.57,107.96 L401.82,107.97 L402.07,107.97 L402.32,107.97 L402.58,107.97 L402.83,107.97 L403.08,107.97 L403.33,107.98 L403.59,107.98 L403.84,107.98 L404.09,107.98 L404.34,107.98 L404.60,107.98 L404.85,107.99 L405.10,107.99 L405.35,107.99 L405.61,107.99 L405.86,107.99 L406.11,107.99 L406.36,107.99 L406.62,107.99 L406.87,107.99 L407.12,108.00 L407.37,108.00 L407.63,108.00 L407.88,108.00 L408.13,108.00 L408.38,108.00 L408.64,108.00 L408.89,108.00 L409.14,108.00 L409.39,108.00 L409.65,108.00 L409.90,108.00 L410.50,115.00 L411.20,124.00 L411.90,128.30 L413.30,127.00 L414.00,126.32 L415.00,127.25 L416.00,127.16 L417.00,125.94 L418.00,126.09 L419.00,125.93 L420.00,126.70 L421.00,126.26 L422.00,126.82 L423.00,125.01 L424.00,127.40 L425.00,126.23 L426.00,126.78 L427.00,126.20 L428.00,126.03 L429.00,126.62 L430.00,126.88 L431.00,126.16 L432.00,126.19 L433.00,126.78 L434.00,125.69 L435.00,125.24 L436.00,126.58 L437.00,125.83 L438.00,124.96 L439.00,125.73 L440.00,124.97 L441.00,124.46 L442.00,124.26 L443.00,125.33 L444.00,125.93 L445.00,125.14 L446.00,124.78 L447.00,125.57 L448.00,125.80 L449.00,125.09 L450.00,125.68 L451.00,126.03 L452.00,125.16 L453.00,124.73 L454.00,125.54 L455.00,125.47 L456.00,126.07 L457.00,124.40 L458.00,124.84 L459.00,124.71 L460.00,124.09 L461.00,125.39 L462.00,125.67 L463.00,124.78 L464.00,126.27 L465.00,125.88 L466.00,125.74 L467.00,125.58 L468.00,125.97 L469.00,124.37 L470.00,125.73 L471.00,125.72 L472.00,124.06 L473.00,125.54 L474.00,125.12 L475.00,125.85 L476.00,124.99 L477.00,125.29 L478.00,125.54 L479.00,124.69 L480.00,125.72 L481.00,125.23 L482.00,125.64 L483.00,124.93 L484.00,126.06 L485.00,125.72 L486.00,125.18 L487.00,125.74 L488.00,126.18 L489.00,126.55 L490.00,125.17 L491.00,126.15 L492.00,125.99 L493.00,125.76 L494.00,125.40 L495.00,126.30 L496.00,125.30 L497.00,126.03 L498.00,126.32 L499.00,125.16 L500.00,125.68 L501.00,125.28 L502.00,125.90 L503.00,126.41 L504.00,126.61 L505.00,125.09 L506.00,125.57 L507.00,126.08 L508.00,126.43 L509.00,125.97 L510.00,125.50 L511.00,125.92 L512.00,125.79 L513.00,125.72 L514.00,125.51 L515.00,125.95 L516.00,125.92 L517.00,125.76 L518.00,125.71 L519.00,125.29 L520.00,125.61 L521.00,126.28 L522.00,125.72 L523.00,125.22 L524.00,126.33 L525.00,126.01 L526.00,126.64 L527.00,125.83 L528.00,125.62 L529.00,125.22 L530.00,126.33 L531.00,126.83 L532.00,125.47 L533.00,125.54 L534.00,126.04 L535.00,125.47" stroke="#ff0000" stroke-dasharray="3.4 1.1"/>
<path d="M64.19,257.77 L64.31,257.14 L64.43,256.50 L64.55,255.87 L64.67,255.24 L64.79,254.60 L64.91,253.97 L65.03,253.33 L65.15,252.70 L65.27,252.06 L65.39,251.42 L65.51,250.78 L65.63,250.15 L65.74,249.51 L65.86,248.87 L65.98,248.23 L66.10,247.59 L66.22,246.94 L66.34,246.30 L66.46,245.66 L66.58,245.02 L66.70,244.37 L66.82,243.73 L66.94,243.08 L67.06,242.44 L67.18,241.79 L67.30,241.15 L67.42,240.50 L67.54,239.85 L67.67,239.21 L67.79,238.56 L67.91,237.91 L68.03,237.26 L68.15,236.61 L68.27,235.96 L68.40,235.31 L68.52,234.66 L68.64,234.01 L68.77,233.36 L68.89,232.71 L69.01,232.06 L69.14,231.41 L69.26,230.76 L69.39,230.10 L69.51,229.45 L69.64,228.80 L69.77,228.15 L69.89,227.49 L70.02,226.84 L70.15,226.19 L70.27,225.53 L70.40,224.88 L70.53,224.22 L70.66,223.57 L70.79,222.91 L70.92,222.26 L71.05,221.60 L71.18,220.95 L71.32,220.29 L71.45,219.64 L71.58,218.98 L71.72,218.33 L71.85,217.67 L71.98,217.02 L72.12,216.36 L72.26,215.70 L72.39,215.05 L72.53,214.39 L72.67,213.74 L72.81,213.08 L72.95,212.42 L73.09,211.77 L73.23,211.11 L73.37,210.46 L73.51,209.80 L73.66,209.14 L73.80,208.49 L73.94,207.83 L74.09,207.18 L74.24,206.52 L74.38,205.87 L74.53,205.21 L74.68,204.56 L74.83,203.90 L74.98,203.25 L75.13,202.59 L75.28,201.94 L75.44,201.28 L75.59,200.63 L75.75,199.97 L75.90,199.32 L76.06,198.67 L76.22,198.01 L76.38,197.36 L76.54,196.71 L76.70,196.05 L76.86,195.40 L77.02,194.75 L77.18,194.10 L77.35,193.44 L77.51,192.79 L77.68,192.14 L77.85,191.49 L78.02,190.84 L78.19,190.19 L78.36,189.54 L78.53,188.89 L78.71,188.24 L78.88,187.59 L79.06,186.95 L79.23,186.30 L79.41,185.65 L79.59,185.00 L79.77,184.36 L79.95,183.71 L80.14,183.07 L80.32,182.42 L80.51,181.78 L80.69,181.13 L80.88,180.49 L81.07,179.85 L81.26,179.20 L81.45,178.56 L81.65,177.92 L81.84,177.28 L82.04,176.64 L82.24,176.00 L82.44,175.36 L82.64,174.72 L82.84,174.08 L83.04,173.44 L83.24,172.81 L83.45,172.17 L83.66,171.54 L83.87,170.90 L84.08,170.27 L84.29,169.63 L84.50,169.00 L84.72,168.37 L84.93,167.74 L85.15,167.11 L85.37,166.48 L85.59,165.85 L85.81,165.22 L86.04,164.59 L86.26,163.96 L86.49,163.34 L86.72,162.71 L86.95,162.09 L87.18,161.46 L87.42,160.84 L87.65,160.22 L87.89,159.60 L88.13,158.98 L88.37,158.36 L88.61,157.74 L88.86,157.12 L89.10,156.50 L89.35,155.89 L89.60,155.27 L89.85,154.66 L90.10,154.04 L90.36,153.43 L90.61,152.82 L90.87,152.21 L91.13,151.60 L91.39,150.99 L91.66,150.38 L91.92,149.78 L92.19,149.17 L92.46,148.57 L92.73,147.96 L93.01,147.36 L93.28,146.76 L93.56,146.16 L93.84,145.56 L94.12,144.96 L94.40,144.36 L94.69,143.77 L94.97,143.17 L95.26,142.58 L95.56,141.99 L95.85,141.39 L96.14,140.80 L96.44,140.21 L96.74,139.63 L97.04,139.04 L97.35,138.45 L97.65,137.87 L97.96,137.29 L98.27,136.70 L98.58,136.12 L98.90,135.54 L99.21,134.97 L99.53,134.39 L99.85,133.81 L100.18,133.24 L100.50,132.67 L100.83,132.09 L101.16,131.52 L101.49,130.95 L101.82,130.39 L102.16,129.82 L102.50,129.25 L102.84,128.69 L103.18,128.13 L103.53,127.57 L103.88,127.01 L104.23,126.45 L104.58,125.89 L104.94,125.34 L105.30,124.78 L105.66,124.23 L106.02,123.68 L106.38,123.13 L106.75,122.58 L107.12,122.04 L107.49,121.49 L107.87,120.95 L108.24,120.41 L108.62,119.87 L109.01,119.33 L109.39,118.79 L109.78,118.26 L110.17,117.72 L110.56,117.19 L110.96,116.66 L111.35,116.13 L111.75,115.60 L112.16,115.07 L112.56,114.55 L112.97,114.03 L113.38,113.51 L113.79,112.99 L114.21,112.47 L114.63,111.95 L115.05,111.44 L115.47,110.93 L115.90,110.42 L116.33,109.91 L116.76,109.40 L117.20,108.89 L117.64,108.39 L118.08,107.89 L118.52,107.39 L118.97,106.89 L119.41,106.39 L119.87,105.90 L120.32,105.40 L120.78,104.91 L121.24,104.42 L121.70,103.93 L122.17,103.45 L122.64,102.96 L123.11,102.48 L123.58,102.00 L124.06,101.52 L124.54,101.05 L125.03,100.57 L125.51,100.10 L126.00,99.63 L126.50,99.16 L126.99,98.70 L127.49,98.23 L127.99,97.77 L128.50,97.31 L129.00,96.85 L129.51,96.39 L130.00,92.00 L131.30,82.00 L132.60,72.00 L134.00,62.00 L134.80,56.00 L135.30,53.00 L135.90,52.00 L137.00,53.60 L139.00,54.40 L145.00,54.70 L234.90,54.60 L235.90,52.80 L237.20,54.60 L270.50,54.60 L271.70,56.40 L273.40,55.00 L296.50,54.80 L297.70,57.20 L299.50,55.60 L310.00,55.10 L340.00,54.20 L354.40,54.00 L354.40,54.00 L354.65,54.12 L354.90,54.24 L355.15,54.37 L355.40,54.49 L355.65,54.61 L355.90,54.74 L356.15,54.87 L356.40,55.00 L356.66,55.14 L356.91,55.28 L357.17,55.42 L357.43,55.56 L357.69,55.71 L357.94,55.85 L358.20,56.00 L358.46,56.14 L358.71,56.29 L358.97,56.44 L359.23,56.58 L359.49,56.72 L359.74,56.86 L360.00,57.00 L360.25,57.13 L360.50,57.27 L360.75,57.40 L361.00,57.54 L361.25,57.67 L361.50,57.81 L361.75,57.95 L362.00,58.08 L362.25,58.21 L362.50,58.35 L362.75,58.48 L363.00,58.60 L363.25,58.73 L363.50,58.85 L363.75,58.97 L364.00,59.08 L364.25,59.20 L364.50,59.30 L364.75,59.40 L365.00,59.50 L365.25,59.59 L365.50,59.69 L365.75,59.78 L366.00,59.87 L366.25,59.96 L366.50,60.05 L366.75,60.14 L367.00,60.22 L367.25,60.30 L367.50,60.39 L367.75,60.46 L368.00,60.54 L368.25,60.61 L368.50,60.68 L368.75,60.74 L369.00,60.80 L369.25,60.86 L369.50,60.91 L369.75,60.96 L370.00,61.00 L370.25,61.04 L370.50,61.08 L370.75,61.12 L371.00,61.16 L371.25,61.19 L371.50,61.23 L371.75,61.27 L372.00,61.31 L372.25,61.34 L372.50,61.38 L372.75,61.41 L373.00,61.45 L373.25,61.48 L373.50,61.52 L373.75,61.55 L374.00,61.58 L374.25,61.61 L374.50,61.64 L374.75,61.67 L375.00,61.70 L375.25,61.73 L375.50,61.75 L375.75,61.78 L376.00,61.80 L376.25,61.82 L376.50,61.84 L376.75,61.87 L377.00,61.88 L377.25,61.90 L377.50,61.92 L377.75,61.93 L378.00,61.95 L378.25,61.96 L378.50,61.97 L378.75,61.98 L379.00,61.99 L379.25,61.99 L379.50,62.00 L379.75,62.00 L380.00,62.00 L380.25,62.00 L380.50,62.00 L380.75,62.00 L381.01,62.00 L381.26,62.00 L381.51,62.00 L381.76,62.00 L382.01,62.00 L382.26,62.00 L382.51,62.00 L382.76,62.00 L383.02,62.00 L383.27,62.00 L383.52,62.00 L383.77,62.00 L384.02,62.00 L384.27,62.00 L384.52,62.00 L384.77,62.00 L385.03,62.00 L385.28,62.00 L385.53,62.00 L385.78,62.00 L386.03,62.00 L386.28,62.00 L386.53,62.00 L386.78,62.00 L387.04,62.00 L387.29,62.00 L387.54,62.00 L387.79,62.00 L388.04,62.00 L388.29,62.00 L388.54,62.00 L388.79,62.00 L389.05,62.00 L389.30,62.00 L389.55,62.00 L389.80,62.00 L390.05,62.00 L390.30,62.00 L390.55,62.00 L390.80,62.00 L391.06,62.00 L391.31,62.00 L391.56,62.00 L391.81,62.00 L392.06,62.00 L392.31,62.00 L392.56,62.00 L392.81,62.00 L393.07,62.00 L393.32,62.00 L393.57,62.00 L393.82,62.00 L394.07,62.00 L394.32,62.00 L394.57,62.00 L394.82,62.00 L395.08,62.00 L395.33,62.00 L395.58,62.00 L395.83,62.00 L396.08,62.00 L396.33,62.00 L396.58,62.00 L396.83,62.00 L397.09,62.00 L397.34,62.00 L397.59,62.00 L397.84,62.00 L398.09,62.00 L398.34,62.00 L398.59,62.00 L398.84,62.00 L399.10,62.00 L399.35,62.00 L399.60,62.00 L399.85,62.00 L400.10,62.00 L400.35,62.00 L400.60,62.00 L400.85,62.00 L401.11,62.00 L401.36,62.00 L401.61,62.00 L401.86,62.00 L402.11,62.00 L402.36,62.00 L402.61,62.00 L402.86,62.00 L403.12,62.00 L403.37,62.00 L403.62,62.00 L403.87,62.00 L404.12,62.00 L404.37,62.00 L404.62,62.00 L404.87,62.00 L405.13,62.00 L405.38,62.00 L405.63,62.00 L405.88,62.00 L406.13,62.00 L406.38,62.00 L406.63,62.00 L406.88,62.00 L407.14,62.00 L407.39,62.00 L407.64,62.00 L407.89,62.00 L408.14,62.00 L408.39,62.00 L408.64,62.00 L408.89,62.00 L409.15,62.00 L409.40,62.00 L409.65,62.00 L409.90,62.00 L410.70,58.00 L411.50,53.20 L412.50,52.60 L413.90,52.90 L415.90,53.60 L420.00,53.90 L440.00,54.20 L535.60,54.50" stroke="#008000"/>
<path d="M63.77,257.84 L63.89,257.24 L64.01,256.64 L64.13,256.04 L64.25,255.44 L64.37,254.83 L64.49,254.23 L64.61,253.62 L64.72,253.01 L64.84,252.40 L64.95,251.79 L65.07,251.17 L65.18,250.56 L65.29,249.94 L65.41,249.32 L65.52,248.70 L65.63,248.08 L65.74,247.45 L65.85,246.83 L65.96,246.20 L66.07,245.58 L66.18,244.95 L66.28,244.32 L66.39,243.69 L66.50,243.05 L66.60,242.42 L66.71,241.78 L66.81,241.15 L66.92,240.51 L67.02,239.87 L67.13,239.23 L67.23,238.59 L67.34,237.95 L67.44,237.31 L67.54,236.66 L67.65,236.02 L67.75,235.37 L67.85,234.72 L67.96,234.07 L68.06,233.43 L68.16,232.78 L68.26,232.12 L68.37,231.47 L68.47,230.82 L68.57,230.16 L68.67,229.51 L68.78,228.85 L68.88,228.20 L68.98,227.54 L69.08,226.88 L69.19,226.22 L69.29,225.56 L69.39,224.90 L69.49,224.24 L69.60,223.58 L69.70,222.92 L69.80,222.26 L69.91,221.59 L70.01,220.93 L70.12,220.26 L70.22,219.60 L70.33,218.93 L70.43,218.27 L70.54,217.60 L70.64,216.93 L70.75,216.27 L70.86,215.60 L70.96,214.93 L71.07,214.26 L71.18,213.59 L71.29,212.92 L71.40,212.25 L71.51,211.58 L71.62,210.91 L71.73,210.24 L71.84,209.57 L71.96,208.90 L72.07,208.23 L72.18,207.56 L72.30,206.88 L72.41,206.21 L72.53,205.54 L72.65,204.87 L72.76,204.20 L72.88,203.52 L73.00,202.85 L73.12,202.18 L73.24,201.51 L73.36,200.83 L73.49,200.16 L73.61,199.49 L73.74,198.82 L73.86,198.14 L73.99,197.47 L74.12,196.80 L74.24,196.13 L74.37,195.46 L74.50,194.79 L74.64,194.11 L74.77,193.44 L74.90,192.77 L75.04,192.10 L75.18,191.43 L75.31,190.76 L75.45,190.09 L75.59,189.42 L75.74,188.76 L75.88,188.09 L76.02,187.42 L76.17,186.75 L76.31,186.08 L76.46,185.42 L76.61,184.75 L76.76,184.09 L76.92,183.42 L77.07,182.76 L77.23,182.09 L77.38,181.43 L77.54,180.77 L77.70,180.11 L77.86,179.44 L78.03,178.78 L78.19,178.12 L78.36,177.46 L78.53,176.81 L78.70,176.15 L78.87,175.49 L79.04,174.84 L79.22,174.18 L79.39,173.53 L79.57,172.87 L79.75,172.22 L79.93,171.57 L80.12,170.92 L80.30,170.27 L80.49,169.62 L80.68,168.97 L80.87,168.32 L81.06,167.68 L81.26,167.03 L81.46,166.39 L81.66,165.75 L81.86,165.10 L82.06,164.46 L82.27,163.82 L82.47,163.19 L82.68,162.55 L82.90,161.91 L83.11,161.28 L83.33,160.65 L83.55,160.01 L83.77,159.38 L83.99,158.75 L84.21,158.12 L84.44,157.50 L84.67,156.87 L84.90,156.25 L85.14,155.63 L85.37,155.00 L85.61,154.39 L85.85,153.77 L86.10,153.15 L86.35,152.53 L86.59,151.92 L86.85,151.31 L87.10,150.70 L87.36,150.09 L87.61,149.48 L87.88,148.88 L88.14,148.27 L88.41,147.67 L88.68,147.07 L88.95,146.47 L89.22,145.87 L89.50,145.28 L89.78,144.68 L90.06,144.09 L90.35,143.50 L90.64,142.91 L90.93,142.33 L91.22,141.74 L91.52,141.16 L91.82,140.58 L92.12,140.00 L92.43,139.42 L92.74,138.85 L93.05,138.27 L93.36,137.70 L93.68,137.13 L94.00,136.57 L94.32,136.00 L94.65,135.44 L94.98,134.88 L95.31,134.32 L95.65,133.76 L95.99,133.21 L96.33,132.66 L96.67,132.11 L97.02,131.56 L97.37,131.02 L97.73,130.47 L98.09,129.93 L98.45,129.39 L98.81,128.86 L99.18,128.32 L99.55,127.79 L99.93,127.26 L100.31,126.74 L100.69,126.21 L101.07,125.69 L101.46,125.17 L101.85,124.66 L102.25,124.14 L102.65,123.63 L103.05,123.12 L103.46,122.62 L103.87,122.11 L104.28,121.61 L104.70,121.11 L105.12,120.62 L105.55,120.12 L105.97,119.63 L106.41,119.15 L106.84,118.66 L107.28,118.18 L107.73,117.70 L108.18,117.22 L108.63,116.75 L109.08,116.28 L109.54,115.81 L110.01,115.34 L110.47,114.88 L110.95,114.42 L111.42,113.97 L111.90,113.51 L112.39,113.06 L112.88,112.62 L113.37,112.17 L113.86,111.73 L114.37,111.29 L114.87,110.86 L115.38,110.42 L115.89,109.99 L116.41,109.57 L116.94,109.15 L117.46,108.73 L117.99,108.31 L118.53,107.90 L119.07,107.49 L119.62,107.08 L120.17,106.68 L120.72,106.28 L121.28,105.88 L121.84,105.49 L122.41,105.10 L122.98,104.71 L123.56,104.33 L124.14,103.95 L124.73,103.57 L125.32,103.20 L125.92,102.83 L126.52,102.46 L127.12,102.10 L127.73,101.74 L128.35,101.39 L128.97,101.04 L129.60,100.69 L130.50,90.00 L131.50,72.00 L132.50,58.00 L133.40,51.00 L133.90,49.60 L134.80,50.50 L134.80,50.50 L135.05,50.99 L135.30,51.49 L135.55,51.99 L135.80,52.50 L136.05,53.04 L136.30,53.60 L136.55,54.14 L136.80,54.60 L137.08,55.04 L137.37,55.45 L137.65,55.82 L137.93,56.17 L138.22,56.49 L138.50,56.80 L138.77,57.09 L139.04,57.37 L139.31,57.63 L139.59,57.89 L139.86,58.12 L140.13,58.32 L140.40,58.50 L140.66,58.65 L140.91,58.79 L141.17,58.93 L141.43,59.06 L141.69,59.19 L141.94,59.31 L142.20,59.42 L142.46,59.53 L142.71,59.62 L142.97,59.72 L143.23,59.80 L143.49,59.87 L143.74,59.94 L144.00,60.00 L144.25,60.05 L144.50,60.10 L144.75,60.15 L145.00,60.20 L145.25,60.25 L145.50,60.29 L145.75,60.33 L146.00,60.37 L146.25,60.41 L146.50,60.45 L146.75,60.49 L147.00,60.52 L147.25,60.56 L147.50,60.59 L147.75,60.62 L148.00,60.64 L148.25,60.67 L148.50,60.69 L148.75,60.72 L149.00,60.74 L149.25,60.76 L149.50,60.77 L149.75,60.79 L150.00,60.80 L150.25,60.81 L150.50,60.82 L150.75,60.84 L151.00,60.85 L151.25,60.86 L151.50,60.87 L151.75,60.88 L152.00,60.89 L152.25,60.90 L152.50,60.91 L152.75,60.92 L153.00,60.93 L153.25,60.93 L153.50,60.94 L153.75,60.95 L154.00,60.96 L154.25,60.96 L154.50,60.97 L154.75,60.97 L155.00,60.98 L155.25,60.98 L155.50,60.99 L155.75,60.99 L156.00,60.99 L156.25,61.00 L156.50,61.00 L156.75,61.00 L157.00,61.00 L157.25,61.00 L157.50,61.00 L157.75,61.00 L158.00,61.00 L158.25,61.00 L158.50,61.00 L158.75,61.00 L159.00,61.00 L159.25,61.00 L159.50,61.00 L159.75,61.00 L160.00,61.00 L160.25,61.00 L160.50,61.00 L160.75,60.99 L161.00,60.99 L161.25,60.99 L161.50,60.99 L161.75,60.99 L162.00,60.99 L162.25,60.99 L162.50,60.99 L162.75,60.99 L163.00,60.99 L163.25,60.99 L163.50,60.98 L163.75,60.98 L164.00,60.98 L164.25,60.98 L164.50,60.98 L164.75,60.98 L165.00,60.98 L165.25,60.97 L165.50,60.97 L165.75,60.97 L166.00,60.97 L166.25,60.97 L166.50,60.97 L166.75,60.97 L167.00,60.96 L167.25,60.96 L167.50,60.96 L167.75,60.96 L168.00,60.96 L168.25,60.95 L168.50,60.95 L168.75,60.95 L169.00,60.95 L169.25,60.95 L169.50,60.94 L169.75,60.94 L170.00,60.94 L170.25,60.94 L170.50,60.94 L170.75,60.93 L171.00,60.93 L171.25,60.93 L171.50,60.93 L171.75,60.93 L172.00,60.92 L172.25,60.92 L172.50,60.92 L172.75,60.92 L173.00,60.91 L173.25,60.91 L173.50,60.91 L173.75,60.91 L174.00,60.90 L174.25,60.90 L174.50,60.90 L174.75,60.90 L175.00,60.89 L175.25,60.89 L175.50,60.89 L175.75,60.89 L176.00,60.88 L176.25,60.88 L176.50,60.88 L176.75,60.87 L177.00,60.87 L177.25,60.87 L177.50,60.87 L177.75,60.86 L178.00,60.86 L178.25,60.86 L178.50,60.86 L178.75,60.85 L179.00,60.85 L179.25,60.85 L179.50,60.84 L179.75,60.84 L180.00,60.84 L180.25,60.84 L180.50,60.83 L180.75,60.83 L181.00,60.83 L181.25,60.82 L181.50,60.82 L181.75,60.82 L182.00,60.81 L182.25,60.81 L182.50,60.81 L182.75,60.81 L183.00,60.80 L183.25,60.80 L183.50,60.80 L183.75,60.79 L184.00,60.79 L184.25,60.79 L184.50,60.78 L184.75,60.78 L185.00,60.78 L185.25,60.77 L185.50,60.77 L185.75,60.77 L186.00,60.77 L186.25,60.76 L186.50,60.76 L186.75,60.76 L187.00,60.75 L187.25,60.75 L187.50,60.75 L187.75,60.74 L188.00,60.74 L188.25,60.74 L188.50,60.73 L188.75,60.73 L189.00,60.73 L189.25,60.72 L189.50,60.72 L189.75,60.72 L190.00,60.72 L190.25,60.71 L190.50,60.71 L190.75,60.71 L191.00,60.70 L191.25,60.70 L191.50,60.70 L191.75,60.69 L192.00,60.69 L192.25,60.69 L192.50,60.68 L192.75,60.68 L193.00,60.68 L193.25,60.68 L193.50,60.67 L193.75,60.67 L194.00,60.67 L194.25,60.66 L194.50,60.66 L194.75,60.66 L195.00,60.66 L195.25,60.65 L195.50,60.65 L195.75,60.65 L196.00,60.64 L196.25,60.64 L196.50,60.64 L196.75,60.64 L197.00,60.63 L197.25,60.63 L197.50,60.63 L197.75,60.62 L198.00,60.62 L198.25,60.62 L198.50,60.62 L198.75,60.61 L199.00,60.61 L199.25,60.61 L199.50,60.61 L199.75,60.60 L200.00,60.60 L200.25,60.60 L200.50,60.59 L200.75,60.59 L201.00,60.59 L201.26,60.59 L201.51,60.58 L201.76,60.58 L202.01,60.58 L202.26,60.58 L202.51,60.57 L202.76,60.57 L203.01,60.57 L203.26,60.57 L203.52,60.56 L203.77,60.56 L204.02,60.56 L204.27,60.56 L204.52,60.55 L204.77,60.55 L205.02,60.55 L205.27,60.54 L205.52,60.54 L205.77,60.54 L206.03,60.54 L206.28,60.53 L206.53,60.53 L206.78,60.53 L207.03,60.53 L207.28,60.52 L207.53,60.52 L207.78,60.52 L208.03,60.51 L208.29,60.51 L208.54,60.51 L208.79,60.51 L209.04,60.50 L209.29,60.50 L209.54,60.50 L209.79,60.50 L210.04,60.49 L210.29,60.49 L210.55,60.49 L210.80,60.48 L211.05,60.48 L211.30,60.48 L211.55,60.48 L211.80,60.47 L212.05,60.47 L212.30,60.47 L212.55,60.46 L212.81,60.46 L213.06,60.46 L213.31,60.46 L213.56,60.45 L213.81,60.45 L214.06,60.45 L214.31,60.45 L214.56,60.44 L214.81,60.44 L215.06,60.44 L215.32,60.43 L215.57,60.43 L215.82,60.43 L216.07,60.43 L216.32,60.42 L216.57,60.42 L216.82,60.42 L217.07,60.41 L217.32,60.41 L217.58,60.41 L217.83,60.40 L218.08,60.40 L218.33,60.40 L218.58,60.40 L218.83,60.39 L219.08,60.39 L219.33,60.39 L219.58,60.38 L219.84,60.38 L220.09,60.38 L220.34,60.38 L220.59,60.37 L220.84,60.37 L221.09,60.37 L221.34,60.36 L221.59,60.36 L221.84,60.36 L222.09,60.36 L222.35,60.35 L222.60,60.35 L222.85,60.35 L223.10,60.34 L223.35,60.34 L223.60,60.34 L223.85,60.33 L224.10,60.33 L224.35,60.33 L224.61,60.33 L224.86,60.32 L225.11,60.32 L225.36,60.32 L225.61,60.31 L225.86,60.31 L226.11,60.31 L226.36,60.30 L226.61,60.30 L226.87,60.30 L227.12,60.30 L227.37,60.29 L227.62,60.29 L227.87,60.29 L228.12,60.28 L228.37,60.28 L228.62,60.28 L228.87,60.27 L229.13,60.27 L229.38,60.27 L229.63,60.26 L229.88,60.26 L230.13,60.26 L230.38,60.26 L230.63,60.25 L230.88,60.25 L231.13,60.25 L231.38,60.24 L231.64,60.24 L231.89,60.24 L232.14,60.23 L232.39,60.23 L232.64,60.23 L232.89,60.22 L233.14,60.22 L233.39,60.22 L233.64,60.22 L233.90,60.21 L234.15,60.21 L234.40,60.21 L234.65,60.20 L234.90,60.20 L235.90,60.70 L239.40,60.20 L239.40,60.20 L239.65,60.17 L239.90,60.15 L240.16,60.12 L240.41,60.10 L240.66,60.07 L240.91,60.04 L241.17,60.02 L241.42,59.99 L241.67,59.97 L241.92,59.95 L242.18,59.92 L242.43,59.90 L242.68,59.88 L242.93,59.85 L243.19,59.83 L243.44,59.81 L243.69,59.79 L243.94,59.77 L244.20,59.75 L244.45,59.73 L244.70,59.71 L244.95,59.69 L245.20,59.68 L245.46,59.66 L245.71,59.64 L245.96,59.63 L246.21,59.61 L246.47,59.60 L246.72,59.59 L246.97,59.57 L247.22,59.56 L247.48,59.55 L247.73,59.54 L247.98,59.53 L248.23,59.53 L248.49,59.52 L248.74,59.51 L248.99,59.51 L249.24,59.50 L249.50,59.50 L249.75,59.50 L250.00,59.50 L250.25,59.50 L250.50,59.50 L250.75,59.50 L251.00,59.50 L251.25,59.50 L251.50,59.50 L251.75,59.51 L252.00,59.51 L252.25,59.51 L252.50,59.51 L252.75,59.52 L253.00,59.52 L253.25,59.52 L253.50,59.52 L253.75,59.53 L254.00,59.53 L254.25,59.54 L254.50,59.54 L254.75,59.54 L255.00,59.55 L255.25,59.55 L255.50,59.56 L255.75,59.56 L256.00,59.57 L256.25,59.57 L256.50,59.58 L256.75,59.58 L257.00,59.59 L257.25,59.59 L257.50,59.60 L257.75,59.60 L258.00,59.61 L258.25,59.61 L258.50,59.62 L258.75,59.62 L259.00,59.63 L259.25,59.64 L259.50,59.64 L259.75,59.65 L260.00,59.65 L260.25,59.66 L260.50,59.67 L260.75,59.67 L261.00,59.68 L261.25,59.68 L261.50,59.69 L261.75,59.69 L262.00,59.70 L262.26,59.71 L262.51,59.71 L262.77,59.72 L263.02,59.73 L263.28,59.73 L263.54,59.74 L263.79,59.75 L264.05,59.75 L264.30,59.76 L264.56,59.77 L264.81,59.78 L265.07,59.79 L265.33,59.79 L265.58,59.80 L265.84,59.81 L266.09,59.82 L266.35,59.83 L266.61,59.84 L266.86,59.85 L267.12,59.86 L267.37,59.87 L267.63,59.88 L267.89,59.89 L268.14,59.90 L268.40,59.91 L268.65,59.92 L268.91,59.93 L269.16,59.94 L269.42,59.95 L269.68,59.96 L269.93,59.97 L270.19,59.98 L270.44,59.99 L270.70,60.00 L270.70,60.00 L270.95,60.07 L271.20,60.13 L271.45,60.20 L271.70,60.26 L271.95,60.33 L272.20,60.39 L272.45,60.45 L272.70,60.52 L272.95,60.58 L273.20,60.64 L273.45,60.70 L273.70,60.76 L273.95,60.81 L274.20,60.87 L274.45,60.93 L274.70,60.98 L274.95,61.04 L275.20,61.09 L275.45,61.15 L275.70,61.20 L275.95,61.25 L276.21,61.31 L276.46,61.37 L276.71,61.44 L276.96,61.50 L277.22,61.56 L277.47,61.62 L277.72,61.68 L277.98,61.74 L278.23,61.79 L278.48,61.84 L278.74,61.89 L278.99,61.93 L279.24,61.96 L279.49,61.98 L279.75,61.99 L280.00,62.00 L280.25,62.00 L280.50,62.00 L280.75,62.00 L281.00,62.00 L281.25,62.00 L281.50,62.00 L281.75,62.00 L282.00,62.00 L282.25,61.99 L282.50,61.99 L282.75,61.99 L283.00,61.99 L283.25,61.99 L283.50,61.99 L283.75,61.98 L284.00,61.98 L284.25,61.98 L284.50,61.98 L284.75,61.98 L285.00,61.97 L285.25,61.97 L285.50,61.97 L285.75,61.96 L286.00,61.96 L286.25,61.96 L286.50,61.96 L286.75,61.95 L287.00,61.95 L287.25,61.95 L287.50,61.94 L287.75,61.94 L288.00,61.93 L288.25,61.93 L288.50,61.93 L288.75,61.92 L289.00,61.92 L289.25,61.91 L289.50,61.91 L289.75,61.90 L290.00,61.90 L290.25,61.89 L290.50,61.89 L290.75,61.88 L291.00,61.87 L291.25,61.86 L291.50,61.85 L291.75,61.83 L292.00,61.82 L292.25,61.80 L292.50,61.79 L292.75,61.77 L293.00,61.75 L293.25,61.73 L293.50,61.71 L293.75,61.69 L294.00,61.67 L294.25,61.65 L294.50,61.63 L294.75,61.61 L295.00,61.59 L295.25,61.57 L295.50,61.54 L295.75,61.52 L296.00,61.50 L296.00,61.50 L296.25,61.30 L296.50,61.11 L296.75,60.93 L297.00,60.76 L297.25,60.60 L297.50,60.46 L297.75,60.32 L298.00,60.20 L298.25,60.09 L298.50,59.98 L298.75,59.89 L299.00,59.79 L299.25,59.71 L299.50,59.63 L299.75,59.56 L300.00,59.50 L300.25,59.44 L300.50,59.39 L300.75,59.33 L301.00,59.28 L301.25,59.23 L301.50,59.18 L301.75,59.13 L302.00,59.09 L302.25,59.04 L302.50,59.00 L302.75,58.95 L303.00,58.91 L303.25,58.87 L303.50,58.83 L303.75,58.79 L304.00,58.76 L304.25,58.72 L304.50,58.68 L304.75,58.65 L305.00,58.61 L305.25,58.58 L305.50,58.54 L305.75,58.51 L306.00,58.48 L306.25,58.45 L306.50,58.42 L306.75,58.39 L307.00,58.36 L307.25,58.33 L307.50,58.30 L307.75,58.27 L308.00,58.24 L308.25,58.21 L308.50,58.18 L308.75,58.15 L309.00,58.12 L309.25,58.09 L309.50,58.06 L309.75,58.03 L310.00,58.00 L310.25,57.97 L310.50,57.94 L310.75,57.91 L311.00,57.88 L311.25,57.86 L311.50,57.83 L311.75,57.80 L312.00,57.77 L312.25,57.75 L312.50,57.72 L312.75,57.70 L313.00,57.67 L313.25,57.65 L313.50,57.62 L313.75,57.60 L314.00,57.57 L314.25,57.55 L314.50,57.52 L314.75,57.50 L315.00,57.48 L315.25,57.45 L315.50,57.43 L315.75,57.40 L316.00,57.38 L316.25,57.36 L316.50,57.33 L316.75,57.31 L317.00,57.29 L317.25,57.26 L317.50,57.24 L317.75,57.22 L318.00,57.19 L318.25,57.17 L318.50,57.15 L318.75,57.12 L319.00,57.10 L319.25,57.07 L319.50,57.05 L319.75,57.02 L320.00,57.00 L320.25,56.97 L320.50,56.95 L320.75,56.92 L321.00,56.90 L321.25,56.87 L321.50,56.85 L321.75,56.82 L322.00,56.80 L322.25,56.77 L322.50,56.74 L322.75,56.72 L323.00,56.69 L323.25,56.67 L323.50,56.64 L323.75,56.62 L324.00,56.59 L324.25,56.56 L324.50,56.54 L324.75,56.51 L325.00,56.49 L325.25,56.46 L325.50,56.43 L325.75,56.41 L326.00,56.38 L326.25,56.36 L326.50,56.33 L326.75,56.31 L327.00,56.28 L327.25,56.26 L327.50,56.23 L327.75,56.21 L328.00,56.19 L328.25,56.16 L328.50,56.14 L328.75,56.11 L329.00,56.09 L329.25,56.07 L329.50,56.04 L329.75,56.02 L330.00,56.00 L330.25,55.98 L330.50,55.96 L330.75,55.93 L331.00,55.91 L331.25,55.89 L331.50,55.87 L331.75,55.85 L332.00,55.82 L332.25,55.80 L332.50,55.78 L332.75,55.76 L333.00,55.74 L333.25,55.72 L333.50,55.70 L333.75,55.67 L334.00,55.65 L334.25,55.63 L334.50,55.61 L334.75,55.59 L335.00,55.57 L335.25,55.55 L335.50,55.53 L335.75,55.51 L336.00,55.49 L336.25,55.47 L336.50,55.45 L336.75,55.43 L337.00,55.41 L337.25,55.40 L337.50,55.38 L337.75,55.36 L338.00,55.34 L338.25,55.32 L338.50,55.30 L338.75,55.29 L339.00,55.27 L339.25,55.25 L339.50,55.23 L339.75,55.22 L340.00,55.20 L340.25,55.18 L340.51,55.17 L340.76,55.15 L341.01,55.13 L341.26,55.12 L341.52,55.10 L341.77,55.08 L342.02,55.07 L342.27,55.05 L342.53,55.04 L342.78,55.02 L343.03,55.00 L343.28,54.99 L343.54,54.97 L343.79,54.96 L344.04,54.94 L344.29,54.93 L344.55,54.91 L344.80,54.90 L345.05,54.88 L345.31,54.86 L345.56,54.85 L345.81,54.83 L346.06,54.82 L346.32,54.81 L346.57,54.79 L346.82,54.78 L347.07,54.76 L347.33,54.75 L347.58,54.73 L347.83,54.72 L348.08,54.71 L348.34,54.69 L348.59,54.68 L348.84,54.66 L349.09,54.65 L349.35,54.64 L349.60,54.62 L349.85,54.61 L350.11,54.60 L350.36,54.59 L350.61,54.57 L350.86,54.56 L351.12,54.55 L351.37,54.54 L351.62,54.52 L351.87,54.51 L352.13,54.50 L352.38,54.49 L352.63,54.48 L352.88,54.47 L353.14,54.45 L353.39,54.44 L353.64,54.43 L353.89,54.42 L354.15,54.41 L354.40,54.40 L354.40,54.40 L354.65,54.44 L354.90,54.49 L355.15,54.56 L355.40,54.64 L355.65,54.73 L355.90,54.83 L356.15,54.95 L356.40,55.07 L356.65,55.19 L356.90,55.32 L357.15,55.46 L357.40,55.60 L357.66,55.77 L357.92,55.98 L358.18,56.22 L358.44,56.48 L358.70,56.75 L358.96,57.03 L359.22,57.30 L359.48,57.56 L359.74,57.80 L360.00,58.00 L360.25,58.18 L360.50,58.35 L360.75,58.51 L361.00,58.67 L361.25,58.83 L361.50,58.98 L361.75,59.12 L362.00,59.26 L362.25,59.40 L362.50,59.54 L362.75,59.67 L363.00,59.80 L363.25,59.93 L363.50,60.06 L363.75,60.18 L364.00,60.31 L364.25,60.43 L364.50,60.55 L364.75,60.68 L365.00,60.80 L365.25,60.92 L365.50,61.05 L365.75,61.17 L366.00,61.30 L366.25,61.43 L366.50,61.55 L366.75,61.67 L367.00,61.80 L367.25,61.92 L367.50,62.04 L367.75,62.15 L368.00,62.26 L368.25,62.37 L368.50,62.48 L368.75,62.58 L369.00,62.67 L369.25,62.76 L369.50,62.85 L369.75,62.93 L370.00,63.00 L370.25,63.07 L370.50,63.13 L370.75,63.20 L371.00,63.26 L371.25,63.32 L371.50,63.38 L371.75,63.44 L372.00,63.50 L372.25,63.55 L372.50,63.60 L372.75,63.65 L373.00,63.70 L373.25,63.74 L373.50,63.79 L373.75,63.83 L374.00,63.87 L374.25,63.90 L374.50,63.94 L374.75,63.97 L375.00,64.00 L375.25,64.03 L375.50,64.06 L375.75,64.09 L376.00,64.11 L376.25,64.14 L376.50,64.17 L376.75,64.20 L377.00,64.22 L377.25,64.25 L377.50,64.27 L377.75,64.29 L378.00,64.31 L378.25,64.33 L378.50,64.35 L378.75,64.36 L379.00,64.38 L379.25,64.39 L379.50,64.39 L379.75,64.40 L380.00,64.40 L380.25,64.40 L380.50,64.40 L380.75,64.40 L381.01,64.40 L381.26,64.40 L381.51,64.40 L381.76,64.40 L382.01,64.40 L382.26,64.40 L382.51,64.40 L382.76,64.40 L383.02,64.40 L383.27,64.40 L383.52,64.40 L383.77,64.40 L384.02,64.40 L384.27,64.40 L384.52,64.40 L384.77,64.40 L385.03,64.40 L385.28,64.40 L385.53,64.40 L385.78,64.40 L386.03,64.40 L386.28,64.40 L386.53,64.40 L386.78,64.40 L387.04,64.40 L387.29,64.40 L387.54,64.40 L387.79,64.40 L388.04,64.40 L388.29,64.40 L388.54,64.40 L388.79,64.40 L389.05,64.40 L389.30,64.40 L389.55,64.40 L389.80,64.40 L390.05,64.40 L390.30,64.40 L390.55,64.40 L390.80,64.40 L391.06,64.40 L391.31,64.40 L391.56,64.40 L391.81,64.40 L392.06,64.40 L392.31,64.40 L392.56,64.40 L392.81,64.40 L393.07,64.40 L393.32,64.40 L393.57,64.40 L393.82,64.40 L394.07,64.40 L394.32,64.40 L394.57,64.40 L394.82,64.40 L395.08,64.40 L395.33,64.40 L395.58,64.40 L395.83,64.40 L396.08,64.40 L396.33,64.40 L396.58,64.40 L396.83,64.40 L397.09,64.40 L397.34,64.40 L397.59,64.40 L397.84,64.40 L398.09,64.40 L398.34,64.40 L398.59,64.40 L398.84,64.40 L399.10,64.40 L399.35,64.40 L399.60,64.40 L399.85,64.40 L400.10,64.40 L400.35,64.40 L400.60,64.40 L400.85,64.40 L401.11,64.40 L401.36,64.40 L401.61,64.40 L401.86,64.40 L402.11,64.40 L402.36,64.40 L402.61,64.40 L402.86,64.40 L403.12,64.40 L403.37,64.40 L403.62,64.40 L403.87,64.40 L404.12,64.40 L404.37,64.40 L404.62,64.40 L404.87,64.40 L405.13,64.40 L405.38,64.40 L405.63,64.40 L405.88,64.40 L406.13,64.40 L406.38,64.40 L406.63,64.40 L406.88,64.40 L407.14,64.40 L407.39,64.40 L407.64,64.40 L407.89,64.40 L408.14,64.40 L408.39,64.40 L408.64,64.40 L408.89,64.40 L409.15,64.40 L409.40,64.40 L409.65,64.40 L409.90,64.40 L409.90,64.40 L410.16,64.07 L410.41,63.73 L410.67,63.41 L410.93,63.09 L411.19,62.78 L411.44,62.49 L411.70,62.20 L411.96,61.92 L412.22,61.64 L412.48,61.37 L412.74,61.10 L413.00,60.83 L413.26,60.57 L413.52,60.31 L413.78,60.06 L414.04,59.82 L414.30,59.58 L414.56,59.35 L414.82,59.13 L415.08,58.91 L415.34,58.70 L415.60,58.50 L415.86,58.30 L416.12,58.11 L416.38,57.92 L416.64,57.74 L416.91,57.55 L417.17,57.37 L417.43,57.20 L417.69,57.03 L417.95,56.86 L418.21,56.70 L418.47,56.54 L418.73,56.39 L418.99,56.24 L419.26,56.10 L419.52,55.97 L419.78,55.84 L420.04,55.72 L420.30,55.60 L420.55,55.49 L420.80,55.39 L421.05,55.28 L421.30,55.18 L421.55,55.08 L421.80,54.98 L422.05,54.88 L422.30,54.79 L422.55,54.70 L422.80,54.61 L423.05,54.52 L423.30,54.44 L423.55,54.36 L423.80,54.28 L424.05,54.21 L424.30,54.14 L424.55,54.07 L424.80,54.01 L425.05,53.95 L425.30,53.89 L425.55,53.85 L425.80,53.80 L426.06,53.76 L426.32,53.71 L426.59,53.67 L426.85,53.63 L427.11,53.59 L427.38,53.55 L427.64,53.51 L427.90,53.48 L428.16,53.45 L428.43,53.42 L428.69,53.39 L428.95,53.37 L429.21,53.35 L429.48,53.33 L429.74,53.31 L430.00,53.30 L430.25,53.29 L430.50,53.28 L430.75,53.27 L431.00,53.27 L431.25,53.26 L431.50,53.25 L431.75,53.25 L432.00,53.24 L432.25,53.23 L432.50,53.23 L432.75,53.22 L433.00,53.22 L433.25,53.21 L433.50,53.21 L433.75,53.21 L434.00,53.20 L434.25,53.20 L434.50,53.20 L434.75,53.19 L435.00,53.19 L435.25,53.18 L435.50,53.18 L435.75,53.18 L436.00,53.18 L436.25,53.17 L436.50,53.17 L436.75,53.16 L437.00,53.16 L437.25,53.16 L437.50,53.15 L437.75,53.15 L438.00,53.15 L438.25,53.14 L438.50,53.14 L438.75,53.13 L439.00,53.13 L439.25,53.12 L439.50,53.11 L439.75,53.11 L440.00,53.10 L440.25,53.09 L440.50,53.08 L440.75,53.07 L441.00,53.06 L441.25,53.05 L441.50,53.04 L441.75,53.03 L442.00,53.01 L442.25,53.00 L442.50,52.98 L442.75,52.97 L443.00,52.95 L443.25,52.93 L443.50,52.92 L443.75,52.90 L444.00,52.88 L444.25,52.87 L444.50,52.85 L444.75,52.83 L445.00,52.81 L445.25,52.80 L445.50,52.78 L445.75,52.76 L446.00,52.75 L446.25,52.73 L446.50,52.72 L446.75,52.70 L447.00,52.69 L447.25,52.68 L447.50,52.66 L447.75,52.65 L448.00,52.64 L448.25,52.63 L448.50,52.62 L448.75,52.62 L449.00,52.61 L449.25,52.61 L449.50,52.60 L449.75,52.60 L450.00,52.60 L450.25,52.60 L450.50,52.60 L450.75,52.60 L451.00,52.60 L451.25,52.60 L451.50,52.60 L451.75,52.60 L452.00,52.60 L452.25,52.60 L452.50,52.60 L452.75,52.60 L453.00,52.60 L453.25,52.60 L453.50,52.60 L453.75,52.60 L454.00,52.60 L454.25,52.60 L454.50,52.60 L454.75,52.60 L455.00,52.60 L455.25,52.60 L455.50,52.60 L455.75,52.60 L456.00,52.60 L456.25,52.60 L456.50,52.60 L456.75,52.60 L457.00,52.60 L457.25,52.60 L457.50,52.60 L457.75,52.60 L458.00,52.60 L458.25,52.60 L458.50,52.60 L458.75,52.60 L459.00,52.60 L459.25,52.60 L459.50,52.60 L459.75,52.60 L460.00,52.60 L460.25,52.60 L460.50,52.60 L460.75,52.61 L461.00,52.61 L461.25,52.62 L461.50,52.62 L461.75,52.63 L462.00,52.64 L462.25,52.65 L462.50,52.66 L462.75,52.67 L463.00,52.69 L463.25,52.70 L463.50,52.71 L463.75,52.73 L464.00,52.74 L464.25,52.76 L464.50,52.78 L464.75,52.79 L465.00,52.81 L465.25,52.83 L465.50,52.85 L465.75,52.87 L466.00,52.89 L466.25,52.91 L466.50,52.93 L466.75,52.95 L467.00,52.97 L467.25,52.99 L467.50,53.01 L467.75,53.03 L468.00,53.05 L468.25,53.07 L468.50,53.09 L468.75,53.11 L469.00,53.13 L469.25,53.15 L469.50,53.16 L469.75,53.18 L470.00,53.20 L470.25,53.22 L470.50,53.23 L470.75,53.25 L471.00,53.27 L471.25,53.29 L471.50,53.30 L471.75,53.32 L472.00,53.34 L472.25,53.36 L472.50,53.38 L472.75,53.39 L473.00,53.41 L473.25,53.43 L473.50,53.45 L473.75,53.47 L474.00,53.48 L474.25,53.50 L474.50,53.52 L474.75,53.54 L475.00,53.56 L475.25,53.58 L475.50,53.60 L475.75,53.62 L476.00,53.63 L476.25,53.65 L476.50,53.67 L476.75,53.69 L477.00,53.71 L477.25,53.73 L477.50,53.76 L477.75,53.78 L478.00,53.80 L478.25,53.82 L478.50,53.84 L478.75,53.86 L479.00,53.88 L479.25,53.91 L479.50,53.93 L479.75,53.95 L480.00,53.98 L480.25,54.00 L480.50,54.02 L480.75,54.05 L481.00,54.07 L481.25,54.10 L481.50,54.12 L481.75,54.15 L482.00,54.18 L482.25,54.20 L482.50,54.23 L482.75,54.26 L483.00,54.28 L483.25,54.31 L483.50,54.34 L483.75,54.37 L484.00,54.40 L484.25,54.43 L484.50,54.46 L484.75,54.50 L485.00,54.53 L485.25,54.57 L485.50,54.61 L485.75,54.65 L486.00,54.69 L486.25,54.73 L486.50,54.78 L486.75,54.82 L487.00,54.87 L487.25,54.91 L487.50,54.96 L487.75,55.01 L488.00,55.06 L488.25,55.11 L488.50,55.15 L488.75,55.20 L489.00,55.25 L489.25,55.30 L489.50,55.35 L489.75,55.40 L490.00,55.44 L490.25,55.49 L490.50,55.54 L490.75,55.58 L491.00,55.63 L491.25,55.67 L491.50,55.72 L491.75,55.76 L492.00,55.80 L492.25,55.84 L492.50,55.88 L492.75,55.92 L493.00,55.96 L493.25,56.01 L493.50,56.05 L493.75,56.09 L494.00,56.13 L494.25,56.17 L494.50,56.21 L494.75,56.25 L495.00,56.29 L495.25,56.34 L495.50,56.38 L495.75,56.42 L496.00,56.46 L496.25,56.50 L496.50,56.53 L496.75,56.57 L497.00,56.61 L497.25,56.65 L497.50,56.68 L497.75,56.72 L498.00,56.75 L498.25,56.79 L498.50,56.82 L498.75,56.85 L499.00,56.89 L499.25,56.92 L499.50,56.94 L499.75,56.97 L500.00,57.00 L500.25,57.03 L500.50,57.05 L500.75,57.08 L501.00,57.10 L501.25,57.13 L501.50,57.15 L501.75,57.17 L502.00,57.19 L502.25,57.22 L502.50,57.24 L502.75,57.26 L503.00,57.28 L503.25,57.30 L503.50,57.32 L503.75,57.34 L504.00,57.36 L504.25,57.38 L504.50,57.40 L504.75,57.42 L505.00,57.44 L505.25,57.46 L505.50,57.48 L505.75,57.49 L506.00,57.51 L506.25,57.53 L506.50,57.55 L506.75,57.57 L507.00,57.58 L507.25,57.60 L507.50,57.62 L507.75,57.64 L508.00,57.65 L508.25,57.67 L508.50,57.69 L508.75,57.71 L509.00,57.73 L509.25,57.74 L509.50,57.76 L509.75,57.78 L510.00,57.80 L510.25,57.82 L510.50,57.84 L510.75,57.86 L511.00,57.87 L511.25,57.89 L511.50,57.91 L511.75,57.93 L512.00,57.95 L512.25,57.97 L512.50,57.98 L512.75,58.00 L513.00,58.02 L513.25,58.04 L513.50,58.06 L513.75,58.07 L514.00,58.09 L514.25,58.11 L514.50,58.13 L514.75,58.15 L515.00,58.16 L515.25,58.18 L515.50,58.20 L515.75,58.22 L516.00,58.23 L516.25,58.25 L516.50,58.27 L516.75,58.29 L517.00,58.30 L517.25,58.32 L517.50,58.34 L517.75,58.35 L518.00,58.37 L518.25,58.39 L518.50,58.40 L518.75,58.42 L519.00,58.44 L519.25,58.45 L519.50,58.47 L519.75,58.48 L520.00,58.50 L520.25,58.52 L520.50,58.53 L520.75,58.55 L521.01,58.56 L521.26,58.58 L521.51,58.60 L521.76,58.61 L522.01,58.63 L522.26,58.64 L522.52,58.66 L522.77,58.67 L523.02,58.69 L523.27,58.71 L523.52,58.72 L523.77,58.74 L524.03,58.75 L524.28,58.77 L524.53,58.78 L524.78,58.80 L525.03,58.81 L525.28,58.83 L525.54,58.84 L525.79,58.86 L526.04,58.87 L526.29,58.89 L526.54,58.90 L526.79,58.92 L527.05,58.93 L527.30,58.95 L527.55,58.96 L527.80,58.98 L528.05,58.99 L528.30,59.01 L528.55,59.02 L528.81,59.03 L529.06,59.05 L529.31,59.06 L529.56,59.08 L529.81,59.09 L530.06,59.11 L530.32,59.12 L530.57,59.13 L530.82,59.15 L531.07,59.16 L531.32,59.18 L531.57,59.19 L531.83,59.20 L532.08,59.22 L532.33,59.23 L532.58,59.24 L532.83,59.26 L533.08,59.27 L533.34,59.28 L533.59,59.30 L533.84,59.31 L534.09,59.32 L534.34,59.34 L534.59,59.35 L534.85,59.36 L535.10,59.37 L535.35,59.39 L535.60,59.40" stroke="#008000" stroke-dasharray="3.4 1.1"/>
</g>
<rect x="64.00" y="10.60" width="471.60" height="275.60" fill="none" stroke="#000" stroke-width="1.6"/>
<line x1="64.00" y1="286.2" x2="64.00" y2="291.60" stroke="#000" stroke-width="1.6"/>
<line x1="158.32" y1="286.2" x2="158.32" y2="291.60" stroke="#000" stroke-width="1.6"/>
<line x1="252.64" y1="286.2" x2="252.64" y2="291.60" stroke="#000" stroke-width="1.6"/>
<line x1="346.96" y1="286.2" x2="346.96" y2="291.60" stroke="#000" stroke-width="1.6"/>
<line x1="441.28" y1="286.2" x2="441.28" y2="291.60" stroke="#000" stroke-width="1.6"/>
<line x1="535.60" y1="286.2" x2="535.60" y2="291.60" stroke="#000" stroke-width="1.6"/>
<line x1="58.00" y1="286.20" x2="64.0" y2="286.20" stroke="#000" stroke-width="1.6"/>
<line x1="58.00" y1="231.08" x2="64.0" y2="231.08" stroke="#000" stroke-width="1.6"/>
<line x1="58.00" y1="175.96" x2="64.0" y2="175.96" stroke="#000" stroke-width="1.6"/>
<line x1="58.00" y1="120.84" x2="64.0" y2="120.84" stroke="#000" stroke-width="1.6"/>
<line x1="58.00" y1="65.72" x2="64.0" y2="65.72" stroke="#000" stroke-width="1.6"/>
<line x1="58.00" y1="10.60" x2="64.0" y2="10.60" stroke="#000" stroke-width="1.6"/>
<g font-family="'Liberation Serif', 'DejaVu Serif', serif" fill="#2b2b2b">
<text transform="translate(64.00,306.2) scale(1,1.14)" font-size="12.9" text-anchor="middle">0</text>
<text transform="translate(158.32,306.2) scale(1,1.14)" font-size="12.9" text-anchor="middle">20</text>
<text transform="translate(252.64,306.2) scale(1,1.14)" font-size="12.9" text-anchor="middle">40</text>
<text transform="translate(346.96,306.2) scale(1,1.14)" font-size="12.9" text-anchor="middle">60</text>
<text transform="translate(441.28,306.2) scale(1,1.14)" font-size="12.9" text-anchor="middle">80</text>
<text transform="translate(535.60,306.2) scale(1,1.14)" font-size="12.9" text-anchor="middle">100</text>
<text transform="translate(54.1,291.50) scale(1,1.14)" font-size="12.9" text-anchor="end">0</text>
<text transform="translate(54.1,236.38) scale(1,1.14)" font-size="12.9" text-anchor="end">200</text>
<text transform="translate(54.1,181.26) scale(1,1.14)" font-size="12.9" text-anchor="end">400</text>
<text transform="translate(54.1,126.14) scale(1,1.14)" font-size="12.9" text-anchor="end">600</text>
<text transform="translate(54.1,71.02) scale(1,1.14)" font-size="12.9" text-anchor="end">800</text>
<text transform="translate(54.1,15.90) scale(1,1.14)" font-size="12.9" text-anchor="end">1000</text>
<text transform="translate(299.6,324.0) scale(1,1.1)" font-size="16" text-anchor="middle">Time [h]</text>
<text transform="translate(18.9,148.9) rotate(-90) scale(1,1.08)" x="0" y="0" font-size="16.6" text-anchor="middle">Temperature [°C]</text>
</g>
<rect x="360.6" y="145.9" width="167.60" height="133.40" rx="2.5" ry="2.5" fill="#ffffff" fill-opacity="0.72" stroke="#cccccc" stroke-width="1"/>
<line x1="364.7" y1="156.80" x2="394.9" y2="156.80" stroke="#0000ff" stroke-width="2.0"/>
<text font-family="'Liberation Serif', 'DejaVu Serif', serif" fill="#2b2b2b" x="405.0" y="162.30" font-size="14.9">T</text>
<text font-family="'Liberation Serif', 'DejaVu Serif', serif" fill="#2b2b2b" x="415.0" y="164.00" font-size="9.8">Air</text>
<text font-family="'Liberation Serif', 'DejaVu Serif', serif" fill="#2b2b2b" x="431.9" y="164.00" font-size="9.8">Stack,in</text>
<text font-family="'Liberation Serif', 'DejaVu Serif', serif" fill="#2b2b2b" x="468.0" y="162.40" font-size="13.9">(test)</text>
<line x1="364.7" y1="178.70" x2="394.9" y2="178.70" stroke="#0000ff" stroke-width="2.0" stroke-dasharray="3.4 1.1"/>
<text font-family="'Liberation Serif', 'DejaVu Serif', serif" fill="#2b2b2b" x="405.0" y="184.20" font-size="14.9">T</text>
<text font-family="'Liberation Serif', 'DejaVu Serif', serif" fill="#2b2b2b" x="415.0" y="185.90" font-size="9.8">Air</text>
<text font-family="'Liberation Serif', 'DejaVu Serif', serif" fill="#2b2b2b" x="431.9" y="185.90" font-size="9.8">Stack,in</text>
<text font-family="'Liberation Serif', 'DejaVu Serif', serif" fill="#2b2b2b" x="468.0" y="184.30" font-size="13.9">(model)</text>
<line x1="364.7" y1="200.40" x2="394.9" y2="200.40" stroke="#ff0000" stroke-width="2.0"/>
<text font-family="'Liberation Serif', 'DejaVu Serif', serif" fill="#2b2b2b" x="405.0" y="205.90" font-size="14.9">T</text>
<text font-family="'Liberation Serif', 'DejaVu Serif', serif" fill="#2b2b2b" x="414.7" y="207.60" font-size="9.8">POX</text>
<text font-family="'Liberation Serif', 'DejaVu Serif', serif" fill="#2b2b2b" x="439.2" y="207.60" font-size="9.8">Air,OPH</text>
<text font-family="'Liberation Serif', 'DejaVu Serif', serif" fill="#2b2b2b" x="478.8" y="206.00" font-size="13.9">(test)</text>
<line x1="364.7" y1="221.90" x2="394.9" y2="221.90" stroke="#ff0000" stroke-width="2.0" stroke-dasharray="3.4 1.1"/>
<text font-family="'Liberation Serif', 'DejaVu Serif', serif" fill="#2b2b2b" x="405.0" y="227.40" font-size="14.9">T</text>
<text font-family="'Liberation Serif', 'DejaVu Serif', serif" fill="#2b2b2b" x="414.7" y="229.10" font-size="9.8">POX</text>
<text font-family="'Liberation Serif', 'DejaVu Serif', serif" fill="#2b2b2b" x="439.2" y="229.10" font-size="9.8">Air,OPH</text>
<text font-family="'Liberation Serif', 'DejaVu Serif', serif" fill="#2b2b2b" x="478.8" y="227.50" font-size="13.9">(model)</text>
<line x1="364.7" y1="243.70" x2="394.9" y2="243.70" stroke="#008000" stroke-width="2.0"/>
<text font-family="'Liberation Serif', 'DejaVu Serif', serif" fill="#2b2b2b" x="405.0" y="249.20" font-size="14.9">T</text>
<text font-family="'Liberation Serif', 'DejaVu Serif', serif" fill="#2b2b2b" x="414.6" y="250.90" font-size="9.8">Stack</text>
<text font-family="'Liberation Serif', 'DejaVu Serif', serif" fill="#2b2b2b" x="440.8" y="249.30" font-size="13.9">(test)</text>
<line x1="364.7" y1="264.80" x2="394.9" y2="264.80" stroke="#008000" stroke-width="2.0" stroke-dasharray="3.4 1.1"/>
<text font-family="'Liberation Serif', 'DejaVu Serif', serif" fill="#2b2b2b" x="405.0" y="270.30" font-size="14.9">T</text>
<text font-family="'Liberation Serif', 'DejaVu Serif', serif" fill="#2b2b2b" x="414.6" y="272.00" font-size="9.8">Stack</text>
<text font-family="'Liberation Serif', 'DejaVu Serif', serif" fill="#2b2b2b" x="440.8" y="270.40" font-size="13.9">(model)</text>
</svg>
</body></html>
